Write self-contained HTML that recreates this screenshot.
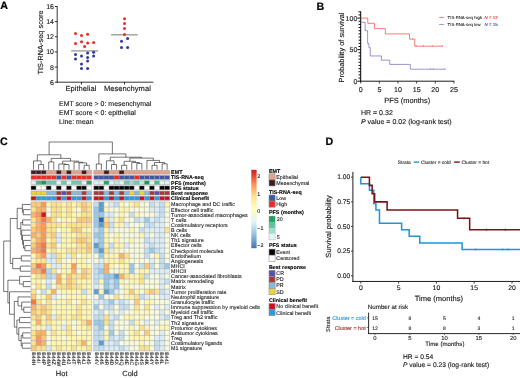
<!DOCTYPE html>
<html lang="en">
<head>
<meta charset="utf-8">
<title>Figure: TIS-RNA-seq score, EMT and survival</title>
<style>
html,body{margin:0;padding:0;background:#fff;}
body{width:520px;height:378px;overflow:hidden;}
svg{display:block;font-family:'Liberation Sans', sans-serif;}
svg text{font-family:"Liberation Sans",sans-serif;text-rendering:geometricPrecision;}
</style>
</head>
<body>
<svg width="520" height="378" viewBox="0 0 520 378">
<rect x="0" y="0" width="520" height="378" fill="#ffffff"/>
<g id="panelA">
<text font-size="107.0" font-weight="bold" transform="translate(0.20 9.00) scale(0.1)" fill="#000" stroke="#000" stroke-width="2.03">A</text>
<line x1="57.20" y1="6.20" x2="57.20" y2="82.55" stroke="#000" stroke-width="0.8"/>
<line x1="56.80" y1="82.20" x2="153.40" y2="82.20" stroke="#000" stroke-width="0.8"/>
<line x1="54.90" y1="82.20" x2="57.20" y2="82.20" stroke="#000" stroke-width="0.8"/>
<text font-size="70.0" text-anchor="end" transform="translate(54.00 84.70) scale(0.1)" fill="#1a1a1a" stroke="#1a1a1a" stroke-width="1.33">6</text>
<line x1="54.90" y1="67.06" x2="57.20" y2="67.06" stroke="#000" stroke-width="0.8"/>
<text font-size="70.0" text-anchor="end" transform="translate(54.00 69.56) scale(0.1)" fill="#1a1a1a" stroke="#1a1a1a" stroke-width="1.33">8</text>
<line x1="54.90" y1="51.92" x2="57.20" y2="51.92" stroke="#000" stroke-width="0.8"/>
<text font-size="70.0" text-anchor="end" transform="translate(54.00 54.42) scale(0.1)" fill="#1a1a1a" stroke="#1a1a1a" stroke-width="1.33">10</text>
<line x1="54.90" y1="36.78" x2="57.20" y2="36.78" stroke="#000" stroke-width="0.8"/>
<text font-size="70.0" text-anchor="end" transform="translate(54.00 39.28) scale(0.1)" fill="#1a1a1a" stroke="#1a1a1a" stroke-width="1.33">12</text>
<line x1="54.90" y1="21.64" x2="57.20" y2="21.64" stroke="#000" stroke-width="0.8"/>
<text font-size="70.0" text-anchor="end" transform="translate(54.00 24.14) scale(0.1)" fill="#1a1a1a" stroke="#1a1a1a" stroke-width="1.33">14</text>
<line x1="54.90" y1="6.50" x2="57.20" y2="6.50" stroke="#000" stroke-width="0.8"/>
<text font-size="70.0" text-anchor="end" transform="translate(54.00 9.00) scale(0.1)" fill="#1a1a1a" stroke="#1a1a1a" stroke-width="1.33">16</text>
<line x1="81.40" y1="82.20" x2="81.40" y2="84.50" stroke="#000" stroke-width="0.8"/>
<line x1="124.50" y1="82.20" x2="124.50" y2="84.50" stroke="#000" stroke-width="0.8"/>
<text font-size="76.0" text-anchor="middle" transform="translate(80.90 90.70) scale(0.1)" fill="#1a1a1a" stroke="#1a1a1a" stroke-width="1.44">Epithelial</text>
<text font-size="76.0" text-anchor="middle" transform="translate(127.40 90.70) scale(0.1)" fill="#1a1a1a" stroke="#1a1a1a" stroke-width="1.44">Mesenchymal</text>
<text font-size="74.0" text-anchor="middle" transform="translate(42.60 42.50) rotate(-90) scale(0.1)" fill="#1a1a1a" stroke="#1a1a1a" stroke-width="1.41">TIS-RNA-seq score</text>
<line x1="71.20" y1="50.90" x2="98.00" y2="50.90" stroke="#979797" stroke-width="1.3"/>
<line x1="111.00" y1="34.80" x2="137.80" y2="34.80" stroke="#979797" stroke-width="1.3"/>
<circle cx="75.5" cy="33.5" r="1.5" fill="#ee2a24"/>
<circle cx="81.5" cy="35.5" r="1.5" fill="#ee2a24"/>
<circle cx="87.6" cy="34.2" r="1.5" fill="#ee2a24"/>
<circle cx="75.5" cy="43.5" r="1.5" fill="#ee2a24"/>
<circle cx="81.5" cy="41.8" r="1.5" fill="#ee2a24"/>
<circle cx="87.6" cy="43.0" r="1.5" fill="#ee2a24"/>
<circle cx="93.6" cy="42.5" r="1.5" fill="#ee2a24"/>
<circle cx="84.6" cy="46.6" r="1.5" fill="#ee2a24"/>
<circle cx="124.5" cy="18.7" r="1.5" fill="#ee2a24"/>
<circle cx="124.5" cy="23.4" r="1.5" fill="#ee2a24"/>
<circle cx="124.5" cy="28.5" r="1.5" fill="#ee2a24"/>
<circle cx="124.5" cy="34.5" r="1.5" fill="#ee2a24"/>
<circle cx="75.5" cy="54.4" r="1.5" fill="#35379f"/>
<circle cx="81.5" cy="56.1" r="1.5" fill="#35379f"/>
<circle cx="87.6" cy="53.1" r="1.5" fill="#35379f"/>
<circle cx="93.6" cy="52.3" r="1.5" fill="#35379f"/>
<circle cx="75.5" cy="58.9" r="1.5" fill="#35379f"/>
<circle cx="87.6" cy="57.6" r="1.5" fill="#35379f"/>
<circle cx="93.6" cy="56.1" r="1.5" fill="#35379f"/>
<circle cx="81.5" cy="63.9" r="1.5" fill="#35379f"/>
<circle cx="87.6" cy="61.1" r="1.5" fill="#35379f"/>
<circle cx="81.5" cy="68.4" r="1.5" fill="#35379f"/>
<circle cx="87.6" cy="68.4" r="1.5" fill="#35379f"/>
<circle cx="127.6" cy="38.5" r="1.5" fill="#35379f"/>
<circle cx="121.5" cy="41.3" r="1.5" fill="#35379f"/>
<circle cx="121.5" cy="47.6" r="1.5" fill="#35379f"/>
<circle cx="127.6" cy="47.6" r="1.5" fill="#35379f"/>
<text font-size="69.8" transform="translate(59.00 106.40) scale(0.1)" fill="#1a1a1a" stroke="#1a1a1a" stroke-width="1.33">EMT score &gt; 0: mesenchymal</text>
<text font-size="69.8" transform="translate(59.00 115.20) scale(0.1)" fill="#1a1a1a" stroke="#1a1a1a" stroke-width="1.33">EMT score &lt; 0: epithelial</text>
<text font-size="69.8" transform="translate(59.00 124.00) scale(0.1)" fill="#1a1a1a" stroke="#1a1a1a" stroke-width="1.33">Line: mean</text>
</g>
<g id="panelB">
<text font-size="107.0" font-weight="bold" transform="translate(316.40 9.60) scale(0.1)" fill="#000" stroke="#000" stroke-width="2.03">B</text>
<line x1="360.70" y1="11.39" x2="360.70" y2="81.65" stroke="#000" stroke-width="1.0"/>
<line x1="360.20" y1="81.20" x2="454.35" y2="81.20" stroke="#000" stroke-width="0.9"/>
<line x1="357.40" y1="81.20" x2="360.70" y2="81.20" stroke="#000" stroke-width="0.95"/>
<line x1="358.50" y1="78.05" x2="360.70" y2="78.05" stroke="#000" stroke-width="0.95"/>
<line x1="358.50" y1="74.89" x2="360.70" y2="74.89" stroke="#000" stroke-width="0.95"/>
<line x1="358.50" y1="71.73" x2="360.70" y2="71.73" stroke="#000" stroke-width="0.95"/>
<line x1="358.50" y1="68.58" x2="360.70" y2="68.58" stroke="#000" stroke-width="0.95"/>
<line x1="358.50" y1="65.42" x2="360.70" y2="65.42" stroke="#000" stroke-width="0.95"/>
<line x1="358.50" y1="62.27" x2="360.70" y2="62.27" stroke="#000" stroke-width="0.95"/>
<line x1="358.50" y1="59.12" x2="360.70" y2="59.12" stroke="#000" stroke-width="0.95"/>
<line x1="358.50" y1="55.96" x2="360.70" y2="55.96" stroke="#000" stroke-width="0.95"/>
<line x1="358.50" y1="52.81" x2="360.70" y2="52.81" stroke="#000" stroke-width="0.95"/>
<line x1="357.40" y1="49.65" x2="360.70" y2="49.65" stroke="#000" stroke-width="0.95"/>
<line x1="358.50" y1="46.50" x2="360.70" y2="46.50" stroke="#000" stroke-width="0.95"/>
<line x1="358.50" y1="43.34" x2="360.70" y2="43.34" stroke="#000" stroke-width="0.95"/>
<line x1="358.50" y1="40.19" x2="360.70" y2="40.19" stroke="#000" stroke-width="0.95"/>
<line x1="358.50" y1="37.03" x2="360.70" y2="37.03" stroke="#000" stroke-width="0.95"/>
<line x1="358.50" y1="33.88" x2="360.70" y2="33.88" stroke="#000" stroke-width="0.95"/>
<line x1="358.50" y1="30.72" x2="360.70" y2="30.72" stroke="#000" stroke-width="0.95"/>
<line x1="358.50" y1="27.57" x2="360.70" y2="27.57" stroke="#000" stroke-width="0.95"/>
<line x1="358.50" y1="24.41" x2="360.70" y2="24.41" stroke="#000" stroke-width="0.95"/>
<line x1="358.50" y1="21.26" x2="360.70" y2="21.26" stroke="#000" stroke-width="0.95"/>
<line x1="357.40" y1="18.10" x2="360.70" y2="18.10" stroke="#000" stroke-width="0.95"/>
<line x1="358.50" y1="14.95" x2="360.70" y2="14.95" stroke="#000" stroke-width="0.95"/>
<line x1="358.50" y1="11.79" x2="360.70" y2="11.79" stroke="#000" stroke-width="0.95"/>
<text font-size="70.0" text-anchor="end" transform="translate(357.30 83.70) scale(0.1)" fill="#1a1a1a" stroke="#1a1a1a" stroke-width="1.33">0</text>
<text font-size="70.0" text-anchor="end" transform="translate(357.30 52.15) scale(0.1)" fill="#1a1a1a" stroke="#1a1a1a" stroke-width="1.33">50</text>
<text font-size="70.0" text-anchor="end" transform="translate(357.30 20.60) scale(0.1)" fill="#1a1a1a" stroke="#1a1a1a" stroke-width="1.33">100</text>
<line x1="360.70" y1="81.20" x2="360.70" y2="83.60" stroke="#000" stroke-width="0.7"/>
<text font-size="71.0" text-anchor="middle" transform="translate(360.70 91.90) scale(0.1)" fill="#1a1a1a" stroke="#1a1a1a" stroke-width="1.35">0</text>
<line x1="379.35" y1="81.20" x2="379.35" y2="83.60" stroke="#000" stroke-width="0.7"/>
<text font-size="71.0" text-anchor="middle" transform="translate(379.35 91.90) scale(0.1)" fill="#1a1a1a" stroke="#1a1a1a" stroke-width="1.35">5</text>
<line x1="398.00" y1="81.20" x2="398.00" y2="83.60" stroke="#000" stroke-width="0.7"/>
<text font-size="71.0" text-anchor="middle" transform="translate(398.00 91.90) scale(0.1)" fill="#1a1a1a" stroke="#1a1a1a" stroke-width="1.35">10</text>
<line x1="416.65" y1="81.20" x2="416.65" y2="83.60" stroke="#000" stroke-width="0.7"/>
<text font-size="71.0" text-anchor="middle" transform="translate(416.65 91.90) scale(0.1)" fill="#1a1a1a" stroke="#1a1a1a" stroke-width="1.35">15</text>
<line x1="435.30" y1="81.20" x2="435.30" y2="83.60" stroke="#000" stroke-width="0.7"/>
<text font-size="71.0" text-anchor="middle" transform="translate(435.30 91.90) scale(0.1)" fill="#1a1a1a" stroke="#1a1a1a" stroke-width="1.35">20</text>
<line x1="453.95" y1="81.20" x2="453.95" y2="83.60" stroke="#000" stroke-width="0.7"/>
<text font-size="71.0" text-anchor="middle" transform="translate(453.95 91.90) scale(0.1)" fill="#1a1a1a" stroke="#1a1a1a" stroke-width="1.35">25</text>
<text font-size="74.0" text-anchor="middle" transform="translate(343.60 47.50) rotate(-90) scale(0.1)" fill="#1a1a1a" stroke="#1a1a1a" stroke-width="1.41">Probability of survival</text>
<text font-size="74.5" text-anchor="middle" transform="translate(407.20 102.90) scale(0.1)" fill="#1a1a1a" stroke="#1a1a1a" stroke-width="1.42">PFS (months)</text>
<text font-size="70.5" transform="translate(360.90 115.40) scale(0.1)" fill="#1a1a1a" stroke="#1a1a1a" stroke-width="1.34">HR = 0.32</text>
<text font-size="70.5" transform="translate(360.90 123.60) scale(0.1)" fill="#1a1a1a" stroke="#1a1a1a" stroke-width="1.34"><tspan font-style="italic">P</tspan> value = 0.02 (log-rank test)</text>
<path d="M360.70 18.10 H367.79 V23.34 H374.50 V28.64 H385.32 V33.88 H409.56 V39.11 H414.78 V46.18 H442.76" stroke="#f04540" stroke-width="0.7" fill="none"/>
<path d="M360.70 22.33 H365.18 V30.72 H367.60 V43.34 H368.91 V47.57 H370.21 V55.96 H381.40 V60.19 H389.79 V64.42 H410.31 V69.21 H445.37" stroke="#6a68c0" stroke-width="0.7" fill="none"/>
<line x1="412.55" y1="38.11" x2="412.55" y2="39.41" stroke="#f04540" stroke-width="0.6"/>
<line x1="416.09" y1="45.18" x2="416.09" y2="46.48" stroke="#f04540" stroke-width="0.6"/>
<line x1="423.36" y1="45.18" x2="423.36" y2="46.48" stroke="#f04540" stroke-width="0.6"/>
<line x1="432.32" y1="45.18" x2="432.32" y2="46.48" stroke="#f04540" stroke-width="0.6"/>
<line x1="442.39" y1="45.18" x2="442.39" y2="46.48" stroke="#f04540" stroke-width="0.6"/>
<line x1="430.45" y1="68.21" x2="430.45" y2="69.51" stroke="#6a68c0" stroke-width="0.6"/>
<line x1="433.44" y1="68.21" x2="433.44" y2="69.51" stroke="#6a68c0" stroke-width="0.6"/>
<line x1="445.00" y1="68.21" x2="445.00" y2="69.51" stroke="#6a68c0" stroke-width="0.6"/>
<line x1="439.00" y1="17.50" x2="444.30" y2="17.50" stroke="#f04540" stroke-width="0.6"/>
<line x1="441.60" y1="16.60" x2="441.60" y2="17.80" stroke="#f04540" stroke-width="0.5"/>
<line x1="439.00" y1="24.50" x2="444.30" y2="24.50" stroke="#6a68c0" stroke-width="0.6"/>
<line x1="441.60" y1="23.60" x2="441.60" y2="24.80" stroke="#6a68c0" stroke-width="0.5"/>
<text font-size="42.7" transform="translate(447.60 19.00) scale(0.1)" fill="#1a1a1a" stroke="#1a1a1a" stroke-width="0.81">TIS-RNA-seq high</text>
<text font-size="42.7" transform="translate(447.60 26.00) scale(0.1)" fill="#1a1a1a" stroke="#1a1a1a" stroke-width="0.81">TIS-RNA-seq low</text>
<text font-size="44.0" transform="translate(484.50 19.00) scale(0.1)" fill="#e8201c" stroke="#e8201c" stroke-width="0.84"><tspan font-style="italic">N</tspan> = 12</text>
<text font-size="44.0" transform="translate(484.50 26.00) scale(0.1)" fill="#2a2ea0" stroke="#2a2ea0" stroke-width="0.84"><tspan font-style="italic">N</tspan> = 15</text>
</g>
<g id="panelC">
<text font-size="107.0" font-weight="bold" transform="translate(0.10 144.80) scale(0.1)" fill="#000" stroke="#000" stroke-width="2.03">C</text>
<rect x="31.00" y="201.90" width="5.06" height="5.136" fill="#fdca78"/>
<rect x="36.06" y="201.90" width="5.06" height="5.136" fill="#fdca78"/>
<rect x="41.12" y="201.90" width="5.06" height="5.136" fill="#fc9957"/>
<rect x="46.18" y="201.90" width="5.06" height="5.136" fill="#fff6b0"/>
<rect x="51.24" y="201.90" width="5.06" height="5.136" fill="#fee38f"/>
<rect x="56.30" y="201.90" width="5.06" height="5.136" fill="#fee38f"/>
<rect x="61.36" y="201.90" width="5.06" height="5.136" fill="#fff6b0"/>
<rect x="66.42" y="201.90" width="5.06" height="5.136" fill="#fee38f"/>
<rect x="71.48" y="201.90" width="5.06" height="5.136" fill="#fff6b0"/>
<rect x="76.54" y="201.90" width="5.06" height="5.136" fill="#fee38f"/>
<rect x="81.60" y="201.90" width="5.06" height="5.136" fill="#fdca78"/>
<rect x="86.66" y="201.90" width="5.06" height="5.136" fill="#fee38f"/>
<rect x="93.80" y="201.90" width="5.06" height="5.136" fill="#c3e0f3"/>
<rect x="98.86" y="201.90" width="5.06" height="5.136" fill="#5f9bd3"/>
<rect x="103.92" y="201.90" width="5.06" height="5.136" fill="#f7fadc"/>
<rect x="108.98" y="201.90" width="5.06" height="5.136" fill="#dcedf5"/>
<rect x="114.04" y="201.90" width="5.06" height="5.136" fill="#c3e0f3"/>
<rect x="119.10" y="201.90" width="5.06" height="5.136" fill="#fff6b0"/>
<rect x="124.16" y="201.90" width="5.06" height="5.136" fill="#f7fadc"/>
<rect x="129.22" y="201.90" width="5.06" height="5.136" fill="#fff6b0"/>
<rect x="134.28" y="201.90" width="5.06" height="5.136" fill="#fee38f"/>
<rect x="139.34" y="201.90" width="5.06" height="5.136" fill="#f7fadc"/>
<rect x="144.40" y="201.90" width="5.06" height="5.136" fill="#f7fadc"/>
<rect x="149.46" y="201.90" width="5.06" height="5.136" fill="#c3e0f3"/>
<rect x="154.52" y="201.90" width="5.06" height="5.136" fill="#dcedf5"/>
<rect x="159.58" y="201.90" width="5.06" height="5.136" fill="#c3e0f3"/>
<rect x="164.64" y="201.90" width="5.06" height="5.136" fill="#fff6b0"/>
<rect x="31.00" y="207.04" width="5.06" height="5.136" fill="#fee38f"/>
<rect x="36.06" y="207.04" width="5.06" height="5.136" fill="#fdb365"/>
<rect x="41.12" y="207.04" width="5.06" height="5.136" fill="#fdb365"/>
<rect x="46.18" y="207.04" width="5.06" height="5.136" fill="#f7fadc"/>
<rect x="51.24" y="207.04" width="5.06" height="5.136" fill="#fee38f"/>
<rect x="56.30" y="207.04" width="5.06" height="5.136" fill="#fee38f"/>
<rect x="61.36" y="207.04" width="5.06" height="5.136" fill="#fff6b0"/>
<rect x="66.42" y="207.04" width="5.06" height="5.136" fill="#fee38f"/>
<rect x="71.48" y="207.04" width="5.06" height="5.136" fill="#fff6b0"/>
<rect x="76.54" y="207.04" width="5.06" height="5.136" fill="#f7fadc"/>
<rect x="81.60" y="207.04" width="5.06" height="5.136" fill="#fdca78"/>
<rect x="86.66" y="207.04" width="5.06" height="5.136" fill="#fee38f"/>
<rect x="93.80" y="207.04" width="5.06" height="5.136" fill="#9acaea"/>
<rect x="98.86" y="207.04" width="5.06" height="5.136" fill="#5f9bd3"/>
<rect x="103.92" y="207.04" width="5.06" height="5.136" fill="#fff6b0"/>
<rect x="108.98" y="207.04" width="5.06" height="5.136" fill="#f7fadc"/>
<rect x="114.04" y="207.04" width="5.06" height="5.136" fill="#f7fadc"/>
<rect x="119.10" y="207.04" width="5.06" height="5.136" fill="#fff6b0"/>
<rect x="124.16" y="207.04" width="5.06" height="5.136" fill="#fff6b0"/>
<rect x="129.22" y="207.04" width="5.06" height="5.136" fill="#f7fadc"/>
<rect x="134.28" y="207.04" width="5.06" height="5.136" fill="#f7fadc"/>
<rect x="139.34" y="207.04" width="5.06" height="5.136" fill="#f7fadc"/>
<rect x="144.40" y="207.04" width="5.06" height="5.136" fill="#f7fadc"/>
<rect x="149.46" y="207.04" width="5.06" height="5.136" fill="#dcedf5"/>
<rect x="154.52" y="207.04" width="5.06" height="5.136" fill="#dcedf5"/>
<rect x="159.58" y="207.04" width="5.06" height="5.136" fill="#c3e0f3"/>
<rect x="164.64" y="207.04" width="5.06" height="5.136" fill="#f7fadc"/>
<rect x="31.00" y="212.17" width="5.06" height="5.136" fill="#fdb365"/>
<rect x="36.06" y="212.17" width="5.06" height="5.136" fill="#fc9957"/>
<rect x="41.12" y="212.17" width="5.06" height="5.136" fill="#d8141c"/>
<rect x="46.18" y="212.17" width="5.06" height="5.136" fill="#f7fadc"/>
<rect x="51.24" y="212.17" width="5.06" height="5.136" fill="#fee38f"/>
<rect x="56.30" y="212.17" width="5.06" height="5.136" fill="#fee38f"/>
<rect x="61.36" y="212.17" width="5.06" height="5.136" fill="#fff6b0"/>
<rect x="66.42" y="212.17" width="5.06" height="5.136" fill="#fee38f"/>
<rect x="71.48" y="212.17" width="5.06" height="5.136" fill="#fff6b0"/>
<rect x="76.54" y="212.17" width="5.06" height="5.136" fill="#fff6b0"/>
<rect x="81.60" y="212.17" width="5.06" height="5.136" fill="#fee38f"/>
<rect x="86.66" y="212.17" width="5.06" height="5.136" fill="#fee38f"/>
<rect x="93.80" y="212.17" width="5.06" height="5.136" fill="#9acaea"/>
<rect x="98.86" y="212.17" width="5.06" height="5.136" fill="#9acaea"/>
<rect x="103.92" y="212.17" width="5.06" height="5.136" fill="#dcedf5"/>
<rect x="108.98" y="212.17" width="5.06" height="5.136" fill="#dcedf5"/>
<rect x="114.04" y="212.17" width="5.06" height="5.136" fill="#f7fadc"/>
<rect x="119.10" y="212.17" width="5.06" height="5.136" fill="#fff6b0"/>
<rect x="124.16" y="212.17" width="5.06" height="5.136" fill="#f7fadc"/>
<rect x="129.22" y="212.17" width="5.06" height="5.136" fill="#c3e0f3"/>
<rect x="134.28" y="212.17" width="5.06" height="5.136" fill="#fff6b0"/>
<rect x="139.34" y="212.17" width="5.06" height="5.136" fill="#f7fadc"/>
<rect x="144.40" y="212.17" width="5.06" height="5.136" fill="#f7fadc"/>
<rect x="149.46" y="212.17" width="5.06" height="5.136" fill="#f7fadc"/>
<rect x="154.52" y="212.17" width="5.06" height="5.136" fill="#dcedf5"/>
<rect x="159.58" y="212.17" width="5.06" height="5.136" fill="#c3e0f3"/>
<rect x="164.64" y="212.17" width="5.06" height="5.136" fill="#f7fadc"/>
<rect x="31.00" y="217.31" width="5.06" height="5.136" fill="#fee38f"/>
<rect x="36.06" y="217.31" width="5.06" height="5.136" fill="#fdb365"/>
<rect x="41.12" y="217.31" width="5.06" height="5.136" fill="#f67745"/>
<rect x="46.18" y="217.31" width="5.06" height="5.136" fill="#fdb365"/>
<rect x="51.24" y="217.31" width="5.06" height="5.136" fill="#fee38f"/>
<rect x="56.30" y="217.31" width="5.06" height="5.136" fill="#f7fadc"/>
<rect x="61.36" y="217.31" width="5.06" height="5.136" fill="#fff6b0"/>
<rect x="66.42" y="217.31" width="5.06" height="5.136" fill="#fff6b0"/>
<rect x="71.48" y="217.31" width="5.06" height="5.136" fill="#fff6b0"/>
<rect x="76.54" y="217.31" width="5.06" height="5.136" fill="#fdca78"/>
<rect x="81.60" y="217.31" width="5.06" height="5.136" fill="#fdca78"/>
<rect x="86.66" y="217.31" width="5.06" height="5.136" fill="#fdca78"/>
<rect x="93.80" y="217.31" width="5.06" height="5.136" fill="#9acaea"/>
<rect x="98.86" y="217.31" width="5.06" height="5.136" fill="#2a62b5"/>
<rect x="103.92" y="217.31" width="5.06" height="5.136" fill="#fee38f"/>
<rect x="108.98" y="217.31" width="5.06" height="5.136" fill="#dcedf5"/>
<rect x="114.04" y="217.31" width="5.06" height="5.136" fill="#fff6b0"/>
<rect x="119.10" y="217.31" width="5.06" height="5.136" fill="#fee38f"/>
<rect x="124.16" y="217.31" width="5.06" height="5.136" fill="#f7fadc"/>
<rect x="129.22" y="217.31" width="5.06" height="5.136" fill="#f7fadc"/>
<rect x="134.28" y="217.31" width="5.06" height="5.136" fill="#c3e0f3"/>
<rect x="139.34" y="217.31" width="5.06" height="5.136" fill="#dcedf5"/>
<rect x="144.40" y="217.31" width="5.06" height="5.136" fill="#9acaea"/>
<rect x="149.46" y="217.31" width="5.06" height="5.136" fill="#dcedf5"/>
<rect x="154.52" y="217.31" width="5.06" height="5.136" fill="#c3e0f3"/>
<rect x="159.58" y="217.31" width="5.06" height="5.136" fill="#dcedf5"/>
<rect x="164.64" y="217.31" width="5.06" height="5.136" fill="#f7fadc"/>
<rect x="31.00" y="222.44" width="5.06" height="5.136" fill="#fee38f"/>
<rect x="36.06" y="222.44" width="5.06" height="5.136" fill="#fdb365"/>
<rect x="41.12" y="222.44" width="5.06" height="5.136" fill="#fc9957"/>
<rect x="46.18" y="222.44" width="5.06" height="5.136" fill="#fee38f"/>
<rect x="51.24" y="222.44" width="5.06" height="5.136" fill="#fee38f"/>
<rect x="56.30" y="222.44" width="5.06" height="5.136" fill="#fee38f"/>
<rect x="61.36" y="222.44" width="5.06" height="5.136" fill="#fff6b0"/>
<rect x="66.42" y="222.44" width="5.06" height="5.136" fill="#fee38f"/>
<rect x="71.48" y="222.44" width="5.06" height="5.136" fill="#fee38f"/>
<rect x="76.54" y="222.44" width="5.06" height="5.136" fill="#fee38f"/>
<rect x="81.60" y="222.44" width="5.06" height="5.136" fill="#fee38f"/>
<rect x="86.66" y="222.44" width="5.06" height="5.136" fill="#fee38f"/>
<rect x="93.80" y="222.44" width="5.06" height="5.136" fill="#9acaea"/>
<rect x="98.86" y="222.44" width="5.06" height="5.136" fill="#5f9bd3"/>
<rect x="103.92" y="222.44" width="5.06" height="5.136" fill="#fdca78"/>
<rect x="108.98" y="222.44" width="5.06" height="5.136" fill="#c3e0f3"/>
<rect x="114.04" y="222.44" width="5.06" height="5.136" fill="#fff6b0"/>
<rect x="119.10" y="222.44" width="5.06" height="5.136" fill="#fff6b0"/>
<rect x="124.16" y="222.44" width="5.06" height="5.136" fill="#dcedf5"/>
<rect x="129.22" y="222.44" width="5.06" height="5.136" fill="#f7fadc"/>
<rect x="134.28" y="222.44" width="5.06" height="5.136" fill="#f7fadc"/>
<rect x="139.34" y="222.44" width="5.06" height="5.136" fill="#f7fadc"/>
<rect x="144.40" y="222.44" width="5.06" height="5.136" fill="#c3e0f3"/>
<rect x="149.46" y="222.44" width="5.06" height="5.136" fill="#c3e0f3"/>
<rect x="154.52" y="222.44" width="5.06" height="5.136" fill="#dcedf5"/>
<rect x="159.58" y="222.44" width="5.06" height="5.136" fill="#dcedf5"/>
<rect x="164.64" y="222.44" width="5.06" height="5.136" fill="#f7fadc"/>
<rect x="31.00" y="227.58" width="5.06" height="5.136" fill="#fdca78"/>
<rect x="36.06" y="227.58" width="5.06" height="5.136" fill="#fdb365"/>
<rect x="41.12" y="227.58" width="5.06" height="5.136" fill="#fc9957"/>
<rect x="46.18" y="227.58" width="5.06" height="5.136" fill="#fee38f"/>
<rect x="51.24" y="227.58" width="5.06" height="5.136" fill="#fee38f"/>
<rect x="56.30" y="227.58" width="5.06" height="5.136" fill="#f7fadc"/>
<rect x="61.36" y="227.58" width="5.06" height="5.136" fill="#fff6b0"/>
<rect x="66.42" y="227.58" width="5.06" height="5.136" fill="#fff6b0"/>
<rect x="71.48" y="227.58" width="5.06" height="5.136" fill="#fdca78"/>
<rect x="76.54" y="227.58" width="5.06" height="5.136" fill="#fdca78"/>
<rect x="81.60" y="227.58" width="5.06" height="5.136" fill="#fff6b0"/>
<rect x="86.66" y="227.58" width="5.06" height="5.136" fill="#fff6b0"/>
<rect x="93.80" y="227.58" width="5.06" height="5.136" fill="#c3e0f3"/>
<rect x="98.86" y="227.58" width="5.06" height="5.136" fill="#9acaea"/>
<rect x="103.92" y="227.58" width="5.06" height="5.136" fill="#fff6b0"/>
<rect x="108.98" y="227.58" width="5.06" height="5.136" fill="#dcedf5"/>
<rect x="114.04" y="227.58" width="5.06" height="5.136" fill="#f7fadc"/>
<rect x="119.10" y="227.58" width="5.06" height="5.136" fill="#f7fadc"/>
<rect x="124.16" y="227.58" width="5.06" height="5.136" fill="#f7fadc"/>
<rect x="129.22" y="227.58" width="5.06" height="5.136" fill="#fff6b0"/>
<rect x="134.28" y="227.58" width="5.06" height="5.136" fill="#f7fadc"/>
<rect x="139.34" y="227.58" width="5.06" height="5.136" fill="#c3e0f3"/>
<rect x="144.40" y="227.58" width="5.06" height="5.136" fill="#dcedf5"/>
<rect x="149.46" y="227.58" width="5.06" height="5.136" fill="#dcedf5"/>
<rect x="154.52" y="227.58" width="5.06" height="5.136" fill="#dcedf5"/>
<rect x="159.58" y="227.58" width="5.06" height="5.136" fill="#dcedf5"/>
<rect x="164.64" y="227.58" width="5.06" height="5.136" fill="#fee38f"/>
<rect x="31.00" y="232.72" width="5.06" height="5.136" fill="#fdb365"/>
<rect x="36.06" y="232.72" width="5.06" height="5.136" fill="#fdca78"/>
<rect x="41.12" y="232.72" width="5.06" height="5.136" fill="#fc9957"/>
<rect x="46.18" y="232.72" width="5.06" height="5.136" fill="#fee38f"/>
<rect x="51.24" y="232.72" width="5.06" height="5.136" fill="#fdca78"/>
<rect x="56.30" y="232.72" width="5.06" height="5.136" fill="#dcedf5"/>
<rect x="61.36" y="232.72" width="5.06" height="5.136" fill="#fff6b0"/>
<rect x="66.42" y="232.72" width="5.06" height="5.136" fill="#fff6b0"/>
<rect x="71.48" y="232.72" width="5.06" height="5.136" fill="#fff6b0"/>
<rect x="76.54" y="232.72" width="5.06" height="5.136" fill="#fee38f"/>
<rect x="81.60" y="232.72" width="5.06" height="5.136" fill="#fee38f"/>
<rect x="86.66" y="232.72" width="5.06" height="5.136" fill="#fee38f"/>
<rect x="93.80" y="232.72" width="5.06" height="5.136" fill="#9acaea"/>
<rect x="98.86" y="232.72" width="5.06" height="5.136" fill="#9acaea"/>
<rect x="103.92" y="232.72" width="5.06" height="5.136" fill="#fff6b0"/>
<rect x="108.98" y="232.72" width="5.06" height="5.136" fill="#f7fadc"/>
<rect x="114.04" y="232.72" width="5.06" height="5.136" fill="#fff6b0"/>
<rect x="119.10" y="232.72" width="5.06" height="5.136" fill="#f7fadc"/>
<rect x="124.16" y="232.72" width="5.06" height="5.136" fill="#f7fadc"/>
<rect x="129.22" y="232.72" width="5.06" height="5.136" fill="#f7fadc"/>
<rect x="134.28" y="232.72" width="5.06" height="5.136" fill="#f7fadc"/>
<rect x="139.34" y="232.72" width="5.06" height="5.136" fill="#fff6b0"/>
<rect x="144.40" y="232.72" width="5.06" height="5.136" fill="#dcedf5"/>
<rect x="149.46" y="232.72" width="5.06" height="5.136" fill="#f7fadc"/>
<rect x="154.52" y="232.72" width="5.06" height="5.136" fill="#dcedf5"/>
<rect x="159.58" y="232.72" width="5.06" height="5.136" fill="#dcedf5"/>
<rect x="164.64" y="232.72" width="5.06" height="5.136" fill="#f7fadc"/>
<rect x="31.00" y="237.85" width="5.06" height="5.136" fill="#fee38f"/>
<rect x="36.06" y="237.85" width="5.06" height="5.136" fill="#fdb365"/>
<rect x="41.12" y="237.85" width="5.06" height="5.136" fill="#fc9957"/>
<rect x="46.18" y="237.85" width="5.06" height="5.136" fill="#fff6b0"/>
<rect x="51.24" y="237.85" width="5.06" height="5.136" fill="#fee38f"/>
<rect x="56.30" y="237.85" width="5.06" height="5.136" fill="#dcedf5"/>
<rect x="61.36" y="237.85" width="5.06" height="5.136" fill="#fff6b0"/>
<rect x="66.42" y="237.85" width="5.06" height="5.136" fill="#fff6b0"/>
<rect x="71.48" y="237.85" width="5.06" height="5.136" fill="#fee38f"/>
<rect x="76.54" y="237.85" width="5.06" height="5.136" fill="#fdca78"/>
<rect x="81.60" y="237.85" width="5.06" height="5.136" fill="#fdca78"/>
<rect x="86.66" y="237.85" width="5.06" height="5.136" fill="#fee38f"/>
<rect x="93.80" y="237.85" width="5.06" height="5.136" fill="#c3e0f3"/>
<rect x="98.86" y="237.85" width="5.06" height="5.136" fill="#9acaea"/>
<rect x="103.92" y="237.85" width="5.06" height="5.136" fill="#fff6b0"/>
<rect x="108.98" y="237.85" width="5.06" height="5.136" fill="#f7fadc"/>
<rect x="114.04" y="237.85" width="5.06" height="5.136" fill="#fff6b0"/>
<rect x="119.10" y="237.85" width="5.06" height="5.136" fill="#f7fadc"/>
<rect x="124.16" y="237.85" width="5.06" height="5.136" fill="#f7fadc"/>
<rect x="129.22" y="237.85" width="5.06" height="5.136" fill="#fff6b0"/>
<rect x="134.28" y="237.85" width="5.06" height="5.136" fill="#f7fadc"/>
<rect x="139.34" y="237.85" width="5.06" height="5.136" fill="#f7fadc"/>
<rect x="144.40" y="237.85" width="5.06" height="5.136" fill="#c3e0f3"/>
<rect x="149.46" y="237.85" width="5.06" height="5.136" fill="#dcedf5"/>
<rect x="154.52" y="237.85" width="5.06" height="5.136" fill="#dcedf5"/>
<rect x="159.58" y="237.85" width="5.06" height="5.136" fill="#dcedf5"/>
<rect x="164.64" y="237.85" width="5.06" height="5.136" fill="#f7fadc"/>
<rect x="31.00" y="242.99" width="5.06" height="5.136" fill="#fdca78"/>
<rect x="36.06" y="242.99" width="5.06" height="5.136" fill="#fc9957"/>
<rect x="41.12" y="242.99" width="5.06" height="5.136" fill="#f67745"/>
<rect x="46.18" y="242.99" width="5.06" height="5.136" fill="#fee38f"/>
<rect x="51.24" y="242.99" width="5.06" height="5.136" fill="#fdca78"/>
<rect x="56.30" y="242.99" width="5.06" height="5.136" fill="#f7fadc"/>
<rect x="61.36" y="242.99" width="5.06" height="5.136" fill="#fff6b0"/>
<rect x="66.42" y="242.99" width="5.06" height="5.136" fill="#fff6b0"/>
<rect x="71.48" y="242.99" width="5.06" height="5.136" fill="#fff6b0"/>
<rect x="76.54" y="242.99" width="5.06" height="5.136" fill="#fee38f"/>
<rect x="81.60" y="242.99" width="5.06" height="5.136" fill="#fee38f"/>
<rect x="86.66" y="242.99" width="5.06" height="5.136" fill="#fdca78"/>
<rect x="93.80" y="242.99" width="5.06" height="5.136" fill="#5f9bd3"/>
<rect x="98.86" y="242.99" width="5.06" height="5.136" fill="#9acaea"/>
<rect x="103.92" y="242.99" width="5.06" height="5.136" fill="#fff6b0"/>
<rect x="108.98" y="242.99" width="5.06" height="5.136" fill="#c3e0f3"/>
<rect x="114.04" y="242.99" width="5.06" height="5.136" fill="#fff6b0"/>
<rect x="119.10" y="242.99" width="5.06" height="5.136" fill="#fff6b0"/>
<rect x="124.16" y="242.99" width="5.06" height="5.136" fill="#dcedf5"/>
<rect x="129.22" y="242.99" width="5.06" height="5.136" fill="#f7fadc"/>
<rect x="134.28" y="242.99" width="5.06" height="5.136" fill="#f7fadc"/>
<rect x="139.34" y="242.99" width="5.06" height="5.136" fill="#f7fadc"/>
<rect x="144.40" y="242.99" width="5.06" height="5.136" fill="#dcedf5"/>
<rect x="149.46" y="242.99" width="5.06" height="5.136" fill="#c3e0f3"/>
<rect x="154.52" y="242.99" width="5.06" height="5.136" fill="#dcedf5"/>
<rect x="159.58" y="242.99" width="5.06" height="5.136" fill="#dcedf5"/>
<rect x="164.64" y="242.99" width="5.06" height="5.136" fill="#f7fadc"/>
<rect x="31.00" y="248.12" width="5.06" height="5.136" fill="#fdb365"/>
<rect x="36.06" y="248.12" width="5.06" height="5.136" fill="#fc9957"/>
<rect x="41.12" y="248.12" width="5.06" height="5.136" fill="#f67745"/>
<rect x="46.18" y="248.12" width="5.06" height="5.136" fill="#fff6b0"/>
<rect x="51.24" y="248.12" width="5.06" height="5.136" fill="#fee38f"/>
<rect x="56.30" y="248.12" width="5.06" height="5.136" fill="#fff6b0"/>
<rect x="61.36" y="248.12" width="5.06" height="5.136" fill="#fff6b0"/>
<rect x="66.42" y="248.12" width="5.06" height="5.136" fill="#fee38f"/>
<rect x="71.48" y="248.12" width="5.06" height="5.136" fill="#fee38f"/>
<rect x="76.54" y="248.12" width="5.06" height="5.136" fill="#fee38f"/>
<rect x="81.60" y="248.12" width="5.06" height="5.136" fill="#fee38f"/>
<rect x="86.66" y="248.12" width="5.06" height="5.136" fill="#fdca78"/>
<rect x="93.80" y="248.12" width="5.06" height="5.136" fill="#9acaea"/>
<rect x="98.86" y="248.12" width="5.06" height="5.136" fill="#5f9bd3"/>
<rect x="103.92" y="248.12" width="5.06" height="5.136" fill="#fee38f"/>
<rect x="108.98" y="248.12" width="5.06" height="5.136" fill="#dcedf5"/>
<rect x="114.04" y="248.12" width="5.06" height="5.136" fill="#fff6b0"/>
<rect x="119.10" y="248.12" width="5.06" height="5.136" fill="#f7fadc"/>
<rect x="124.16" y="248.12" width="5.06" height="5.136" fill="#f7fadc"/>
<rect x="129.22" y="248.12" width="5.06" height="5.136" fill="#f7fadc"/>
<rect x="134.28" y="248.12" width="5.06" height="5.136" fill="#f7fadc"/>
<rect x="139.34" y="248.12" width="5.06" height="5.136" fill="#f7fadc"/>
<rect x="144.40" y="248.12" width="5.06" height="5.136" fill="#c3e0f3"/>
<rect x="149.46" y="248.12" width="5.06" height="5.136" fill="#9acaea"/>
<rect x="154.52" y="248.12" width="5.06" height="5.136" fill="#c3e0f3"/>
<rect x="159.58" y="248.12" width="5.06" height="5.136" fill="#dcedf5"/>
<rect x="164.64" y="248.12" width="5.06" height="5.136" fill="#f7fadc"/>
<rect x="31.00" y="253.26" width="5.06" height="5.136" fill="#fff6b0"/>
<rect x="36.06" y="253.26" width="5.06" height="5.136" fill="#fdca78"/>
<rect x="41.12" y="253.26" width="5.06" height="5.136" fill="#fc9957"/>
<rect x="46.18" y="253.26" width="5.06" height="5.136" fill="#dcedf5"/>
<rect x="51.24" y="253.26" width="5.06" height="5.136" fill="#c3e0f3"/>
<rect x="56.30" y="253.26" width="5.06" height="5.136" fill="#fee38f"/>
<rect x="61.36" y="253.26" width="5.06" height="5.136" fill="#fff6b0"/>
<rect x="66.42" y="253.26" width="5.06" height="5.136" fill="#dcedf5"/>
<rect x="71.48" y="253.26" width="5.06" height="5.136" fill="#fee38f"/>
<rect x="76.54" y="253.26" width="5.06" height="5.136" fill="#f7fadc"/>
<rect x="81.60" y="253.26" width="5.06" height="5.136" fill="#fff6b0"/>
<rect x="86.66" y="253.26" width="5.06" height="5.136" fill="#fff6b0"/>
<rect x="93.80" y="253.26" width="5.06" height="5.136" fill="#f7fadc"/>
<rect x="98.86" y="253.26" width="5.06" height="5.136" fill="#9acaea"/>
<rect x="103.92" y="253.26" width="5.06" height="5.136" fill="#fff6b0"/>
<rect x="108.98" y="253.26" width="5.06" height="5.136" fill="#fff6b0"/>
<rect x="114.04" y="253.26" width="5.06" height="5.136" fill="#fff6b0"/>
<rect x="119.10" y="253.26" width="5.06" height="5.136" fill="#fdb365"/>
<rect x="124.16" y="253.26" width="5.06" height="5.136" fill="#fee38f"/>
<rect x="129.22" y="253.26" width="5.06" height="5.136" fill="#f7fadc"/>
<rect x="134.28" y="253.26" width="5.06" height="5.136" fill="#f7fadc"/>
<rect x="139.34" y="253.26" width="5.06" height="5.136" fill="#f7fadc"/>
<rect x="144.40" y="253.26" width="5.06" height="5.136" fill="#c3e0f3"/>
<rect x="149.46" y="253.26" width="5.06" height="5.136" fill="#f7fadc"/>
<rect x="154.52" y="253.26" width="5.06" height="5.136" fill="#fff6b0"/>
<rect x="159.58" y="253.26" width="5.06" height="5.136" fill="#c3e0f3"/>
<rect x="164.64" y="253.26" width="5.06" height="5.136" fill="#f7fadc"/>
<rect x="31.00" y="258.40" width="5.06" height="5.136" fill="#fff6b0"/>
<rect x="36.06" y="258.40" width="5.06" height="5.136" fill="#fee38f"/>
<rect x="41.12" y="258.40" width="5.06" height="5.136" fill="#fee38f"/>
<rect x="46.18" y="258.40" width="5.06" height="5.136" fill="#dcedf5"/>
<rect x="51.24" y="258.40" width="5.06" height="5.136" fill="#dcedf5"/>
<rect x="56.30" y="258.40" width="5.06" height="5.136" fill="#fee38f"/>
<rect x="61.36" y="258.40" width="5.06" height="5.136" fill="#f7fadc"/>
<rect x="66.42" y="258.40" width="5.06" height="5.136" fill="#f7fadc"/>
<rect x="71.48" y="258.40" width="5.06" height="5.136" fill="#fff6b0"/>
<rect x="76.54" y="258.40" width="5.06" height="5.136" fill="#fff6b0"/>
<rect x="81.60" y="258.40" width="5.06" height="5.136" fill="#fff6b0"/>
<rect x="86.66" y="258.40" width="5.06" height="5.136" fill="#f7fadc"/>
<rect x="93.80" y="258.40" width="5.06" height="5.136" fill="#f7fadc"/>
<rect x="98.86" y="258.40" width="5.06" height="5.136" fill="#dcedf5"/>
<rect x="103.92" y="258.40" width="5.06" height="5.136" fill="#fff6b0"/>
<rect x="108.98" y="258.40" width="5.06" height="5.136" fill="#fff6b0"/>
<rect x="114.04" y="258.40" width="5.06" height="5.136" fill="#fff6b0"/>
<rect x="119.10" y="258.40" width="5.06" height="5.136" fill="#fee38f"/>
<rect x="124.16" y="258.40" width="5.06" height="5.136" fill="#fff6b0"/>
<rect x="129.22" y="258.40" width="5.06" height="5.136" fill="#f7fadc"/>
<rect x="134.28" y="258.40" width="5.06" height="5.136" fill="#f7fadc"/>
<rect x="139.34" y="258.40" width="5.06" height="5.136" fill="#f7fadc"/>
<rect x="144.40" y="258.40" width="5.06" height="5.136" fill="#f7fadc"/>
<rect x="149.46" y="258.40" width="5.06" height="5.136" fill="#dcedf5"/>
<rect x="154.52" y="258.40" width="5.06" height="5.136" fill="#f7fadc"/>
<rect x="159.58" y="258.40" width="5.06" height="5.136" fill="#c3e0f3"/>
<rect x="164.64" y="258.40" width="5.06" height="5.136" fill="#f7fadc"/>
<rect x="31.00" y="263.53" width="5.06" height="5.136" fill="#fdca78"/>
<rect x="36.06" y="263.53" width="5.06" height="5.136" fill="#f67745"/>
<rect x="41.12" y="263.53" width="5.06" height="5.136" fill="#fc9957"/>
<rect x="46.18" y="263.53" width="5.06" height="5.136" fill="#fff6b0"/>
<rect x="51.24" y="263.53" width="5.06" height="5.136" fill="#dcedf5"/>
<rect x="56.30" y="263.53" width="5.06" height="5.136" fill="#dcedf5"/>
<rect x="61.36" y="263.53" width="5.06" height="5.136" fill="#fff6b0"/>
<rect x="66.42" y="263.53" width="5.06" height="5.136" fill="#fff6b0"/>
<rect x="71.48" y="263.53" width="5.06" height="5.136" fill="#fc9957"/>
<rect x="76.54" y="263.53" width="5.06" height="5.136" fill="#fff6b0"/>
<rect x="81.60" y="263.53" width="5.06" height="5.136" fill="#fff6b0"/>
<rect x="86.66" y="263.53" width="5.06" height="5.136" fill="#fff6b0"/>
<rect x="93.80" y="263.53" width="5.06" height="5.136" fill="#c3e0f3"/>
<rect x="98.86" y="263.53" width="5.06" height="5.136" fill="#c3e0f3"/>
<rect x="103.92" y="263.53" width="5.06" height="5.136" fill="#fdb365"/>
<rect x="108.98" y="263.53" width="5.06" height="5.136" fill="#fff6b0"/>
<rect x="114.04" y="263.53" width="5.06" height="5.136" fill="#f7fadc"/>
<rect x="119.10" y="263.53" width="5.06" height="5.136" fill="#fff6b0"/>
<rect x="124.16" y="263.53" width="5.06" height="5.136" fill="#fff6b0"/>
<rect x="129.22" y="263.53" width="5.06" height="5.136" fill="#9acaea"/>
<rect x="134.28" y="263.53" width="5.06" height="5.136" fill="#f7fadc"/>
<rect x="139.34" y="263.53" width="5.06" height="5.136" fill="#c3e0f3"/>
<rect x="144.40" y="263.53" width="5.06" height="5.136" fill="#fdca78"/>
<rect x="149.46" y="263.53" width="5.06" height="5.136" fill="#c3e0f3"/>
<rect x="154.52" y="263.53" width="5.06" height="5.136" fill="#f7fadc"/>
<rect x="159.58" y="263.53" width="5.06" height="5.136" fill="#c3e0f3"/>
<rect x="164.64" y="263.53" width="5.06" height="5.136" fill="#9acaea"/>
<rect x="31.00" y="268.67" width="5.06" height="5.136" fill="#fdb365"/>
<rect x="36.06" y="268.67" width="5.06" height="5.136" fill="#fdb365"/>
<rect x="41.12" y="268.67" width="5.06" height="5.136" fill="#f67745"/>
<rect x="46.18" y="268.67" width="5.06" height="5.136" fill="#b2d7ee"/>
<rect x="51.24" y="268.67" width="5.06" height="5.136" fill="#fee38f"/>
<rect x="56.30" y="268.67" width="5.06" height="5.136" fill="#f7fadc"/>
<rect x="61.36" y="268.67" width="5.06" height="5.136" fill="#fff6b0"/>
<rect x="66.42" y="268.67" width="5.06" height="5.136" fill="#fff6b0"/>
<rect x="71.48" y="268.67" width="5.06" height="5.136" fill="#fdb365"/>
<rect x="76.54" y="268.67" width="5.06" height="5.136" fill="#f7fadc"/>
<rect x="81.60" y="268.67" width="5.06" height="5.136" fill="#fdca78"/>
<rect x="86.66" y="268.67" width="5.06" height="5.136" fill="#fee38f"/>
<rect x="93.80" y="268.67" width="5.06" height="5.136" fill="#c3e0f3"/>
<rect x="98.86" y="268.67" width="5.06" height="5.136" fill="#9acaea"/>
<rect x="103.92" y="268.67" width="5.06" height="5.136" fill="#fdb365"/>
<rect x="108.98" y="268.67" width="5.06" height="5.136" fill="#f7fadc"/>
<rect x="114.04" y="268.67" width="5.06" height="5.136" fill="#f7fadc"/>
<rect x="119.10" y="268.67" width="5.06" height="5.136" fill="#fff6b0"/>
<rect x="124.16" y="268.67" width="5.06" height="5.136" fill="#fff6b0"/>
<rect x="129.22" y="268.67" width="5.06" height="5.136" fill="#9acaea"/>
<rect x="134.28" y="268.67" width="5.06" height="5.136" fill="#f7fadc"/>
<rect x="139.34" y="268.67" width="5.06" height="5.136" fill="#fff6b0"/>
<rect x="144.40" y="268.67" width="5.06" height="5.136" fill="#fff6b0"/>
<rect x="149.46" y="268.67" width="5.06" height="5.136" fill="#dcedf5"/>
<rect x="154.52" y="268.67" width="5.06" height="5.136" fill="#dcedf5"/>
<rect x="159.58" y="268.67" width="5.06" height="5.136" fill="#dcedf5"/>
<rect x="164.64" y="268.67" width="5.06" height="5.136" fill="#dcedf5"/>
<rect x="31.00" y="273.80" width="5.06" height="5.136" fill="#fff6b0"/>
<rect x="36.06" y="273.80" width="5.06" height="5.136" fill="#fee38f"/>
<rect x="41.12" y="273.80" width="5.06" height="5.136" fill="#fdca78"/>
<rect x="46.18" y="273.80" width="5.06" height="5.136" fill="#b2d7ee"/>
<rect x="51.24" y="273.80" width="5.06" height="5.136" fill="#c3e0f3"/>
<rect x="56.30" y="273.80" width="5.06" height="5.136" fill="#fdb365"/>
<rect x="61.36" y="273.80" width="5.06" height="5.136" fill="#fff6b0"/>
<rect x="66.42" y="273.80" width="5.06" height="5.136" fill="#fdca78"/>
<rect x="71.48" y="273.80" width="5.06" height="5.136" fill="#fee38f"/>
<rect x="76.54" y="273.80" width="5.06" height="5.136" fill="#fee38f"/>
<rect x="81.60" y="273.80" width="5.06" height="5.136" fill="#fdca78"/>
<rect x="86.66" y="273.80" width="5.06" height="5.136" fill="#fee38f"/>
<rect x="93.80" y="273.80" width="5.06" height="5.136" fill="#c3e0f3"/>
<rect x="98.86" y="273.80" width="5.06" height="5.136" fill="#c3e0f3"/>
<rect x="103.92" y="273.80" width="5.06" height="5.136" fill="#9acaea"/>
<rect x="108.98" y="273.80" width="5.06" height="5.136" fill="#9acaea"/>
<rect x="114.04" y="273.80" width="5.06" height="5.136" fill="#5f9bd3"/>
<rect x="119.10" y="273.80" width="5.06" height="5.136" fill="#fdb365"/>
<rect x="124.16" y="273.80" width="5.06" height="5.136" fill="#fee38f"/>
<rect x="129.22" y="273.80" width="5.06" height="5.136" fill="#fff6b0"/>
<rect x="134.28" y="273.80" width="5.06" height="5.136" fill="#fff6b0"/>
<rect x="139.34" y="273.80" width="5.06" height="5.136" fill="#fee38f"/>
<rect x="144.40" y="273.80" width="5.06" height="5.136" fill="#c3e0f3"/>
<rect x="149.46" y="273.80" width="5.06" height="5.136" fill="#f7fadc"/>
<rect x="154.52" y="273.80" width="5.06" height="5.136" fill="#f7fadc"/>
<rect x="159.58" y="273.80" width="5.06" height="5.136" fill="#dcedf5"/>
<rect x="164.64" y="273.80" width="5.06" height="5.136" fill="#f7fadc"/>
<rect x="31.00" y="278.94" width="5.06" height="5.136" fill="#fff6b0"/>
<rect x="36.06" y="278.94" width="5.06" height="5.136" fill="#fff6b0"/>
<rect x="41.12" y="278.94" width="5.06" height="5.136" fill="#f7fadc"/>
<rect x="46.18" y="278.94" width="5.06" height="5.136" fill="#dcedf5"/>
<rect x="51.24" y="278.94" width="5.06" height="5.136" fill="#f7fadc"/>
<rect x="56.30" y="278.94" width="5.06" height="5.136" fill="#fdb365"/>
<rect x="61.36" y="278.94" width="5.06" height="5.136" fill="#fff6b0"/>
<rect x="66.42" y="278.94" width="5.06" height="5.136" fill="#fdca78"/>
<rect x="71.48" y="278.94" width="5.06" height="5.136" fill="#fee38f"/>
<rect x="76.54" y="278.94" width="5.06" height="5.136" fill="#fff6b0"/>
<rect x="81.60" y="278.94" width="5.06" height="5.136" fill="#fff6b0"/>
<rect x="86.66" y="278.94" width="5.06" height="5.136" fill="#fff6b0"/>
<rect x="93.80" y="278.94" width="5.06" height="5.136" fill="#c3e0f3"/>
<rect x="98.86" y="278.94" width="5.06" height="5.136" fill="#fff6b0"/>
<rect x="103.92" y="278.94" width="5.06" height="5.136" fill="#9acaea"/>
<rect x="108.98" y="278.94" width="5.06" height="5.136" fill="#c3e0f3"/>
<rect x="114.04" y="278.94" width="5.06" height="5.136" fill="#9acaea"/>
<rect x="119.10" y="278.94" width="5.06" height="5.136" fill="#fff6b0"/>
<rect x="124.16" y="278.94" width="5.06" height="5.136" fill="#f7fadc"/>
<rect x="129.22" y="278.94" width="5.06" height="5.136" fill="#fff6b0"/>
<rect x="134.28" y="278.94" width="5.06" height="5.136" fill="#fff6b0"/>
<rect x="139.34" y="278.94" width="5.06" height="5.136" fill="#fee38f"/>
<rect x="144.40" y="278.94" width="5.06" height="5.136" fill="#f7fadc"/>
<rect x="149.46" y="278.94" width="5.06" height="5.136" fill="#f7fadc"/>
<rect x="154.52" y="278.94" width="5.06" height="5.136" fill="#f7fadc"/>
<rect x="159.58" y="278.94" width="5.06" height="5.136" fill="#dcedf5"/>
<rect x="164.64" y="278.94" width="5.06" height="5.136" fill="#c3e0f3"/>
<rect x="31.00" y="284.08" width="5.06" height="5.136" fill="#f7fadc"/>
<rect x="36.06" y="284.08" width="5.06" height="5.136" fill="#fee38f"/>
<rect x="41.12" y="284.08" width="5.06" height="5.136" fill="#fff6b0"/>
<rect x="46.18" y="284.08" width="5.06" height="5.136" fill="#c3e0f3"/>
<rect x="51.24" y="284.08" width="5.06" height="5.136" fill="#f7fadc"/>
<rect x="56.30" y="284.08" width="5.06" height="5.136" fill="#fee38f"/>
<rect x="61.36" y="284.08" width="5.06" height="5.136" fill="#fee38f"/>
<rect x="66.42" y="284.08" width="5.06" height="5.136" fill="#fdca78"/>
<rect x="71.48" y="284.08" width="5.06" height="5.136" fill="#fee38f"/>
<rect x="76.54" y="284.08" width="5.06" height="5.136" fill="#fee38f"/>
<rect x="81.60" y="284.08" width="5.06" height="5.136" fill="#fff6b0"/>
<rect x="86.66" y="284.08" width="5.06" height="5.136" fill="#fff6b0"/>
<rect x="93.80" y="284.08" width="5.06" height="5.136" fill="#dcedf5"/>
<rect x="98.86" y="284.08" width="5.06" height="5.136" fill="#f7fadc"/>
<rect x="103.92" y="284.08" width="5.06" height="5.136" fill="#9acaea"/>
<rect x="108.98" y="284.08" width="5.06" height="5.136" fill="#c3e0f3"/>
<rect x="114.04" y="284.08" width="5.06" height="5.136" fill="#9acaea"/>
<rect x="119.10" y="284.08" width="5.06" height="5.136" fill="#f7fadc"/>
<rect x="124.16" y="284.08" width="5.06" height="5.136" fill="#fff6b0"/>
<rect x="129.22" y="284.08" width="5.06" height="5.136" fill="#f7fadc"/>
<rect x="134.28" y="284.08" width="5.06" height="5.136" fill="#f7fadc"/>
<rect x="139.34" y="284.08" width="5.06" height="5.136" fill="#f7fadc"/>
<rect x="144.40" y="284.08" width="5.06" height="5.136" fill="#f7fadc"/>
<rect x="149.46" y="284.08" width="5.06" height="5.136" fill="#f7fadc"/>
<rect x="154.52" y="284.08" width="5.06" height="5.136" fill="#f7fadc"/>
<rect x="159.58" y="284.08" width="5.06" height="5.136" fill="#dcedf5"/>
<rect x="164.64" y="284.08" width="5.06" height="5.136" fill="#f7fadc"/>
<rect x="31.00" y="289.21" width="5.06" height="5.136" fill="#fee38f"/>
<rect x="36.06" y="289.21" width="5.06" height="5.136" fill="#f7fadc"/>
<rect x="41.12" y="289.21" width="5.06" height="5.136" fill="#c3e0f3"/>
<rect x="46.18" y="289.21" width="5.06" height="5.136" fill="#fff6b0"/>
<rect x="51.24" y="289.21" width="5.06" height="5.136" fill="#fdb365"/>
<rect x="56.30" y="289.21" width="5.06" height="5.136" fill="#f7fadc"/>
<rect x="61.36" y="289.21" width="5.06" height="5.136" fill="#fff6b0"/>
<rect x="66.42" y="289.21" width="5.06" height="5.136" fill="#fff6b0"/>
<rect x="71.48" y="289.21" width="5.06" height="5.136" fill="#fff6b0"/>
<rect x="76.54" y="289.21" width="5.06" height="5.136" fill="#fff6b0"/>
<rect x="81.60" y="289.21" width="5.06" height="5.136" fill="#c3e0f3"/>
<rect x="86.66" y="289.21" width="5.06" height="5.136" fill="#fff6b0"/>
<rect x="93.80" y="289.21" width="5.06" height="5.136" fill="#5f9bd3"/>
<rect x="98.86" y="289.21" width="5.06" height="5.136" fill="#fff6b0"/>
<rect x="103.92" y="289.21" width="5.06" height="5.136" fill="#5f9bd3"/>
<rect x="108.98" y="289.21" width="5.06" height="5.136" fill="#9acaea"/>
<rect x="114.04" y="289.21" width="5.06" height="5.136" fill="#dcedf5"/>
<rect x="119.10" y="289.21" width="5.06" height="5.136" fill="#f7fadc"/>
<rect x="124.16" y="289.21" width="5.06" height="5.136" fill="#fff6b0"/>
<rect x="129.22" y="289.21" width="5.06" height="5.136" fill="#fdca78"/>
<rect x="134.28" y="289.21" width="5.06" height="5.136" fill="#fff6b0"/>
<rect x="139.34" y="289.21" width="5.06" height="5.136" fill="#f7fadc"/>
<rect x="144.40" y="289.21" width="5.06" height="5.136" fill="#fee38f"/>
<rect x="149.46" y="289.21" width="5.06" height="5.136" fill="#fdca78"/>
<rect x="154.52" y="289.21" width="5.06" height="5.136" fill="#fee38f"/>
<rect x="159.58" y="289.21" width="5.06" height="5.136" fill="#c3e0f3"/>
<rect x="164.64" y="289.21" width="5.06" height="5.136" fill="#dcedf5"/>
<rect x="31.00" y="294.35" width="5.06" height="5.136" fill="#fdca78"/>
<rect x="36.06" y="294.35" width="5.06" height="5.136" fill="#f7fadc"/>
<rect x="41.12" y="294.35" width="5.06" height="5.136" fill="#fff6b0"/>
<rect x="46.18" y="294.35" width="5.06" height="5.136" fill="#fdca78"/>
<rect x="51.24" y="294.35" width="5.06" height="5.136" fill="#dcedf5"/>
<rect x="56.30" y="294.35" width="5.06" height="5.136" fill="#f7fadc"/>
<rect x="61.36" y="294.35" width="5.06" height="5.136" fill="#f7fadc"/>
<rect x="66.42" y="294.35" width="5.06" height="5.136" fill="#fff6b0"/>
<rect x="71.48" y="294.35" width="5.06" height="5.136" fill="#fff6b0"/>
<rect x="76.54" y="294.35" width="5.06" height="5.136" fill="#fff6b0"/>
<rect x="81.60" y="294.35" width="5.06" height="5.136" fill="#fff6b0"/>
<rect x="86.66" y="294.35" width="5.06" height="5.136" fill="#f7fadc"/>
<rect x="93.80" y="294.35" width="5.06" height="5.136" fill="#f7fadc"/>
<rect x="98.86" y="294.35" width="5.06" height="5.136" fill="#9acaea"/>
<rect x="103.92" y="294.35" width="5.06" height="5.136" fill="#f7fadc"/>
<rect x="108.98" y="294.35" width="5.06" height="5.136" fill="#f7fadc"/>
<rect x="114.04" y="294.35" width="5.06" height="5.136" fill="#fee38f"/>
<rect x="119.10" y="294.35" width="5.06" height="5.136" fill="#f7fadc"/>
<rect x="124.16" y="294.35" width="5.06" height="5.136" fill="#fff6b0"/>
<rect x="129.22" y="294.35" width="5.06" height="5.136" fill="#fff6b0"/>
<rect x="134.28" y="294.35" width="5.06" height="5.136" fill="#fee38f"/>
<rect x="139.34" y="294.35" width="5.06" height="5.136" fill="#c3e0f3"/>
<rect x="144.40" y="294.35" width="5.06" height="5.136" fill="#dcedf5"/>
<rect x="149.46" y="294.35" width="5.06" height="5.136" fill="#f7fadc"/>
<rect x="154.52" y="294.35" width="5.06" height="5.136" fill="#f7fadc"/>
<rect x="159.58" y="294.35" width="5.06" height="5.136" fill="#dcedf5"/>
<rect x="164.64" y="294.35" width="5.06" height="5.136" fill="#dcedf5"/>
<rect x="31.00" y="299.48" width="5.06" height="5.136" fill="#f67745"/>
<rect x="36.06" y="299.48" width="5.06" height="5.136" fill="#fee38f"/>
<rect x="41.12" y="299.48" width="5.06" height="5.136" fill="#f7fadc"/>
<rect x="46.18" y="299.48" width="5.06" height="5.136" fill="#fee38f"/>
<rect x="51.24" y="299.48" width="5.06" height="5.136" fill="#f7fadc"/>
<rect x="56.30" y="299.48" width="5.06" height="5.136" fill="#fff6b0"/>
<rect x="61.36" y="299.48" width="5.06" height="5.136" fill="#fff6b0"/>
<rect x="66.42" y="299.48" width="5.06" height="5.136" fill="#fee38f"/>
<rect x="71.48" y="299.48" width="5.06" height="5.136" fill="#f7fadc"/>
<rect x="76.54" y="299.48" width="5.06" height="5.136" fill="#fff6b0"/>
<rect x="81.60" y="299.48" width="5.06" height="5.136" fill="#fee38f"/>
<rect x="86.66" y="299.48" width="5.06" height="5.136" fill="#fff6b0"/>
<rect x="93.80" y="299.48" width="5.06" height="5.136" fill="#dcedf5"/>
<rect x="98.86" y="299.48" width="5.06" height="5.136" fill="#dcedf5"/>
<rect x="103.92" y="299.48" width="5.06" height="5.136" fill="#c3e0f3"/>
<rect x="108.98" y="299.48" width="5.06" height="5.136" fill="#9acaea"/>
<rect x="114.04" y="299.48" width="5.06" height="5.136" fill="#dcedf5"/>
<rect x="119.10" y="299.48" width="5.06" height="5.136" fill="#c3e0f3"/>
<rect x="124.16" y="299.48" width="5.06" height="5.136" fill="#dcedf5"/>
<rect x="129.22" y="299.48" width="5.06" height="5.136" fill="#f7fadc"/>
<rect x="134.28" y="299.48" width="5.06" height="5.136" fill="#fdca78"/>
<rect x="139.34" y="299.48" width="5.06" height="5.136" fill="#f7fadc"/>
<rect x="144.40" y="299.48" width="5.06" height="5.136" fill="#fff6b0"/>
<rect x="149.46" y="299.48" width="5.06" height="5.136" fill="#fff6b0"/>
<rect x="154.52" y="299.48" width="5.06" height="5.136" fill="#f7fadc"/>
<rect x="159.58" y="299.48" width="5.06" height="5.136" fill="#f7fadc"/>
<rect x="164.64" y="299.48" width="5.06" height="5.136" fill="#f7fadc"/>
<rect x="31.00" y="304.62" width="5.06" height="5.136" fill="#fdb365"/>
<rect x="36.06" y="304.62" width="5.06" height="5.136" fill="#fee38f"/>
<rect x="41.12" y="304.62" width="5.06" height="5.136" fill="#fdca78"/>
<rect x="46.18" y="304.62" width="5.06" height="5.136" fill="#fee38f"/>
<rect x="51.24" y="304.62" width="5.06" height="5.136" fill="#fff6b0"/>
<rect x="56.30" y="304.62" width="5.06" height="5.136" fill="#fff6b0"/>
<rect x="61.36" y="304.62" width="5.06" height="5.136" fill="#fff6b0"/>
<rect x="66.42" y="304.62" width="5.06" height="5.136" fill="#fff6b0"/>
<rect x="71.48" y="304.62" width="5.06" height="5.136" fill="#fff6b0"/>
<rect x="76.54" y="304.62" width="5.06" height="5.136" fill="#fee38f"/>
<rect x="81.60" y="304.62" width="5.06" height="5.136" fill="#fff6b0"/>
<rect x="86.66" y="304.62" width="5.06" height="5.136" fill="#fff6b0"/>
<rect x="93.80" y="304.62" width="5.06" height="5.136" fill="#9acaea"/>
<rect x="98.86" y="304.62" width="5.06" height="5.136" fill="#f7fadc"/>
<rect x="103.92" y="304.62" width="5.06" height="5.136" fill="#c3e0f3"/>
<rect x="108.98" y="304.62" width="5.06" height="5.136" fill="#c3e0f3"/>
<rect x="114.04" y="304.62" width="5.06" height="5.136" fill="#f7fadc"/>
<rect x="119.10" y="304.62" width="5.06" height="5.136" fill="#c3e0f3"/>
<rect x="124.16" y="304.62" width="5.06" height="5.136" fill="#c3e0f3"/>
<rect x="129.22" y="304.62" width="5.06" height="5.136" fill="#f7fadc"/>
<rect x="134.28" y="304.62" width="5.06" height="5.136" fill="#fee38f"/>
<rect x="139.34" y="304.62" width="5.06" height="5.136" fill="#f7fadc"/>
<rect x="144.40" y="304.62" width="5.06" height="5.136" fill="#fee38f"/>
<rect x="149.46" y="304.62" width="5.06" height="5.136" fill="#f7fadc"/>
<rect x="154.52" y="304.62" width="5.06" height="5.136" fill="#dcedf5"/>
<rect x="159.58" y="304.62" width="5.06" height="5.136" fill="#f7fadc"/>
<rect x="164.64" y="304.62" width="5.06" height="5.136" fill="#dcedf5"/>
<rect x="31.00" y="309.76" width="5.06" height="5.136" fill="#fdca78"/>
<rect x="36.06" y="309.76" width="5.06" height="5.136" fill="#fee38f"/>
<rect x="41.12" y="309.76" width="5.06" height="5.136" fill="#fdca78"/>
<rect x="46.18" y="309.76" width="5.06" height="5.136" fill="#fee38f"/>
<rect x="51.24" y="309.76" width="5.06" height="5.136" fill="#f7fadc"/>
<rect x="56.30" y="309.76" width="5.06" height="5.136" fill="#fff6b0"/>
<rect x="61.36" y="309.76" width="5.06" height="5.136" fill="#fff6b0"/>
<rect x="66.42" y="309.76" width="5.06" height="5.136" fill="#fff6b0"/>
<rect x="71.48" y="309.76" width="5.06" height="5.136" fill="#fff6b0"/>
<rect x="76.54" y="309.76" width="5.06" height="5.136" fill="#fee38f"/>
<rect x="81.60" y="309.76" width="5.06" height="5.136" fill="#fff6b0"/>
<rect x="86.66" y="309.76" width="5.06" height="5.136" fill="#fff6b0"/>
<rect x="93.80" y="309.76" width="5.06" height="5.136" fill="#dcedf5"/>
<rect x="98.86" y="309.76" width="5.06" height="5.136" fill="#c3e0f3"/>
<rect x="103.92" y="309.76" width="5.06" height="5.136" fill="#f7fadc"/>
<rect x="108.98" y="309.76" width="5.06" height="5.136" fill="#dcedf5"/>
<rect x="114.04" y="309.76" width="5.06" height="5.136" fill="#f7fadc"/>
<rect x="119.10" y="309.76" width="5.06" height="5.136" fill="#dcedf5"/>
<rect x="124.16" y="309.76" width="5.06" height="5.136" fill="#f7fadc"/>
<rect x="129.22" y="309.76" width="5.06" height="5.136" fill="#f7fadc"/>
<rect x="134.28" y="309.76" width="5.06" height="5.136" fill="#fff6b0"/>
<rect x="139.34" y="309.76" width="5.06" height="5.136" fill="#f7fadc"/>
<rect x="144.40" y="309.76" width="5.06" height="5.136" fill="#fff6b0"/>
<rect x="149.46" y="309.76" width="5.06" height="5.136" fill="#f7fadc"/>
<rect x="154.52" y="309.76" width="5.06" height="5.136" fill="#f7fadc"/>
<rect x="159.58" y="309.76" width="5.06" height="5.136" fill="#dcedf5"/>
<rect x="164.64" y="309.76" width="5.06" height="5.136" fill="#f7fadc"/>
<rect x="31.00" y="314.89" width="5.06" height="5.136" fill="#fee38f"/>
<rect x="36.06" y="314.89" width="5.06" height="5.136" fill="#fdca78"/>
<rect x="41.12" y="314.89" width="5.06" height="5.136" fill="#fff6b0"/>
<rect x="46.18" y="314.89" width="5.06" height="5.136" fill="#fdca78"/>
<rect x="51.24" y="314.89" width="5.06" height="5.136" fill="#dcedf5"/>
<rect x="56.30" y="314.89" width="5.06" height="5.136" fill="#fee38f"/>
<rect x="61.36" y="314.89" width="5.06" height="5.136" fill="#fff6b0"/>
<rect x="66.42" y="314.89" width="5.06" height="5.136" fill="#fff6b0"/>
<rect x="71.48" y="314.89" width="5.06" height="5.136" fill="#fee38f"/>
<rect x="76.54" y="314.89" width="5.06" height="5.136" fill="#fee38f"/>
<rect x="81.60" y="314.89" width="5.06" height="5.136" fill="#fff6b0"/>
<rect x="86.66" y="314.89" width="5.06" height="5.136" fill="#fff6b0"/>
<rect x="93.80" y="314.89" width="5.06" height="5.136" fill="#c3e0f3"/>
<rect x="98.86" y="314.89" width="5.06" height="5.136" fill="#c3e0f3"/>
<rect x="103.92" y="314.89" width="5.06" height="5.136" fill="#fee38f"/>
<rect x="108.98" y="314.89" width="5.06" height="5.136" fill="#dcedf5"/>
<rect x="114.04" y="314.89" width="5.06" height="5.136" fill="#c3e0f3"/>
<rect x="119.10" y="314.89" width="5.06" height="5.136" fill="#f7fadc"/>
<rect x="124.16" y="314.89" width="5.06" height="5.136" fill="#fff6b0"/>
<rect x="129.22" y="314.89" width="5.06" height="5.136" fill="#fff6b0"/>
<rect x="134.28" y="314.89" width="5.06" height="5.136" fill="#f7fadc"/>
<rect x="139.34" y="314.89" width="5.06" height="5.136" fill="#fff6b0"/>
<rect x="144.40" y="314.89" width="5.06" height="5.136" fill="#f7fadc"/>
<rect x="149.46" y="314.89" width="5.06" height="5.136" fill="#f7fadc"/>
<rect x="154.52" y="314.89" width="5.06" height="5.136" fill="#f7fadc"/>
<rect x="159.58" y="314.89" width="5.06" height="5.136" fill="#dcedf5"/>
<rect x="164.64" y="314.89" width="5.06" height="5.136" fill="#c3e0f3"/>
<rect x="31.00" y="320.03" width="5.06" height="5.136" fill="#fff6b0"/>
<rect x="36.06" y="320.03" width="5.06" height="5.136" fill="#fdb365"/>
<rect x="41.12" y="320.03" width="5.06" height="5.136" fill="#fff6b0"/>
<rect x="46.18" y="320.03" width="5.06" height="5.136" fill="#fee38f"/>
<rect x="51.24" y="320.03" width="5.06" height="5.136" fill="#fff6b0"/>
<rect x="56.30" y="320.03" width="5.06" height="5.136" fill="#fff6b0"/>
<rect x="61.36" y="320.03" width="5.06" height="5.136" fill="#f7fadc"/>
<rect x="66.42" y="320.03" width="5.06" height="5.136" fill="#fff6b0"/>
<rect x="71.48" y="320.03" width="5.06" height="5.136" fill="#f7fadc"/>
<rect x="76.54" y="320.03" width="5.06" height="5.136" fill="#fff6b0"/>
<rect x="81.60" y="320.03" width="5.06" height="5.136" fill="#fee38f"/>
<rect x="86.66" y="320.03" width="5.06" height="5.136" fill="#fdb365"/>
<rect x="93.80" y="320.03" width="5.06" height="5.136" fill="#9acaea"/>
<rect x="98.86" y="320.03" width="5.06" height="5.136" fill="#9acaea"/>
<rect x="103.92" y="320.03" width="5.06" height="5.136" fill="#fee38f"/>
<rect x="108.98" y="320.03" width="5.06" height="5.136" fill="#c3e0f3"/>
<rect x="114.04" y="320.03" width="5.06" height="5.136" fill="#f7fadc"/>
<rect x="119.10" y="320.03" width="5.06" height="5.136" fill="#f7fadc"/>
<rect x="124.16" y="320.03" width="5.06" height="5.136" fill="#f7fadc"/>
<rect x="129.22" y="320.03" width="5.06" height="5.136" fill="#c3e0f3"/>
<rect x="134.28" y="320.03" width="5.06" height="5.136" fill="#fff6b0"/>
<rect x="139.34" y="320.03" width="5.06" height="5.136" fill="#f7fadc"/>
<rect x="144.40" y="320.03" width="5.06" height="5.136" fill="#dcedf5"/>
<rect x="149.46" y="320.03" width="5.06" height="5.136" fill="#f7fadc"/>
<rect x="154.52" y="320.03" width="5.06" height="5.136" fill="#dcedf5"/>
<rect x="159.58" y="320.03" width="5.06" height="5.136" fill="#f7fadc"/>
<rect x="164.64" y="320.03" width="5.06" height="5.136" fill="#f7fadc"/>
<rect x="31.00" y="325.16" width="5.06" height="5.136" fill="#fff6b0"/>
<rect x="36.06" y="325.16" width="5.06" height="5.136" fill="#fff6b0"/>
<rect x="41.12" y="325.16" width="5.06" height="5.136" fill="#fff6b0"/>
<rect x="46.18" y="325.16" width="5.06" height="5.136" fill="#d6eaf4"/>
<rect x="51.24" y="325.16" width="5.06" height="5.136" fill="#fff6b0"/>
<rect x="56.30" y="325.16" width="5.06" height="5.136" fill="#fff6b0"/>
<rect x="61.36" y="325.16" width="5.06" height="5.136" fill="#dcedf5"/>
<rect x="66.42" y="325.16" width="5.06" height="5.136" fill="#fee38f"/>
<rect x="71.48" y="325.16" width="5.06" height="5.136" fill="#f7fadc"/>
<rect x="76.54" y="325.16" width="5.06" height="5.136" fill="#fff6b0"/>
<rect x="81.60" y="325.16" width="5.06" height="5.136" fill="#fff6b0"/>
<rect x="86.66" y="325.16" width="5.06" height="5.136" fill="#fee38f"/>
<rect x="93.80" y="325.16" width="5.06" height="5.136" fill="#c3e0f3"/>
<rect x="98.86" y="325.16" width="5.06" height="5.136" fill="#9acaea"/>
<rect x="103.92" y="325.16" width="5.06" height="5.136" fill="#f7fadc"/>
<rect x="108.98" y="325.16" width="5.06" height="5.136" fill="#c3e0f3"/>
<rect x="114.04" y="325.16" width="5.06" height="5.136" fill="#f7fadc"/>
<rect x="119.10" y="325.16" width="5.06" height="5.136" fill="#f7fadc"/>
<rect x="124.16" y="325.16" width="5.06" height="5.136" fill="#f7fadc"/>
<rect x="129.22" y="325.16" width="5.06" height="5.136" fill="#fff6b0"/>
<rect x="134.28" y="325.16" width="5.06" height="5.136" fill="#f7fadc"/>
<rect x="139.34" y="325.16" width="5.06" height="5.136" fill="#fee38f"/>
<rect x="144.40" y="325.16" width="5.06" height="5.136" fill="#fff6b0"/>
<rect x="149.46" y="325.16" width="5.06" height="5.136" fill="#f7fadc"/>
<rect x="154.52" y="325.16" width="5.06" height="5.136" fill="#f7fadc"/>
<rect x="159.58" y="325.16" width="5.06" height="5.136" fill="#fff6b0"/>
<rect x="164.64" y="325.16" width="5.06" height="5.136" fill="#fff6b0"/>
<rect x="31.00" y="330.30" width="5.06" height="5.136" fill="#fee38f"/>
<rect x="36.06" y="330.30" width="5.06" height="5.136" fill="#fdb365"/>
<rect x="41.12" y="330.30" width="5.06" height="5.136" fill="#fdb365"/>
<rect x="46.18" y="330.30" width="5.06" height="5.136" fill="#f7fadc"/>
<rect x="51.24" y="330.30" width="5.06" height="5.136" fill="#fee38f"/>
<rect x="56.30" y="330.30" width="5.06" height="5.136" fill="#fff6b0"/>
<rect x="61.36" y="330.30" width="5.06" height="5.136" fill="#fff6b0"/>
<rect x="66.42" y="330.30" width="5.06" height="5.136" fill="#fee38f"/>
<rect x="71.48" y="330.30" width="5.06" height="5.136" fill="#fff6b0"/>
<rect x="76.54" y="330.30" width="5.06" height="5.136" fill="#f7fadc"/>
<rect x="81.60" y="330.30" width="5.06" height="5.136" fill="#fff6b0"/>
<rect x="86.66" y="330.30" width="5.06" height="5.136" fill="#fff6b0"/>
<rect x="93.80" y="330.30" width="5.06" height="5.136" fill="#c3e0f3"/>
<rect x="98.86" y="330.30" width="5.06" height="5.136" fill="#c3e0f3"/>
<rect x="103.92" y="330.30" width="5.06" height="5.136" fill="#fff6b0"/>
<rect x="108.98" y="330.30" width="5.06" height="5.136" fill="#9acaea"/>
<rect x="114.04" y="330.30" width="5.06" height="5.136" fill="#f7fadc"/>
<rect x="119.10" y="330.30" width="5.06" height="5.136" fill="#c3e0f3"/>
<rect x="124.16" y="330.30" width="5.06" height="5.136" fill="#f7fadc"/>
<rect x="129.22" y="330.30" width="5.06" height="5.136" fill="#fff6b0"/>
<rect x="134.28" y="330.30" width="5.06" height="5.136" fill="#fee38f"/>
<rect x="139.34" y="330.30" width="5.06" height="5.136" fill="#f7fadc"/>
<rect x="144.40" y="330.30" width="5.06" height="5.136" fill="#fdca78"/>
<rect x="149.46" y="330.30" width="5.06" height="5.136" fill="#f7fadc"/>
<rect x="154.52" y="330.30" width="5.06" height="5.136" fill="#f7fadc"/>
<rect x="159.58" y="330.30" width="5.06" height="5.136" fill="#dcedf5"/>
<rect x="164.64" y="330.30" width="5.06" height="5.136" fill="#f7fadc"/>
<rect x="31.00" y="335.44" width="5.06" height="5.136" fill="#fee38f"/>
<rect x="36.06" y="335.44" width="5.06" height="5.136" fill="#fc9957"/>
<rect x="41.12" y="335.44" width="5.06" height="5.136" fill="#fdca78"/>
<rect x="46.18" y="335.44" width="5.06" height="5.136" fill="#f7fadc"/>
<rect x="51.24" y="335.44" width="5.06" height="5.136" fill="#fff6b0"/>
<rect x="56.30" y="335.44" width="5.06" height="5.136" fill="#fff6b0"/>
<rect x="61.36" y="335.44" width="5.06" height="5.136" fill="#f7fadc"/>
<rect x="66.42" y="335.44" width="5.06" height="5.136" fill="#fff6b0"/>
<rect x="71.48" y="335.44" width="5.06" height="5.136" fill="#fff6b0"/>
<rect x="76.54" y="335.44" width="5.06" height="5.136" fill="#fff6b0"/>
<rect x="81.60" y="335.44" width="5.06" height="5.136" fill="#fff6b0"/>
<rect x="86.66" y="335.44" width="5.06" height="5.136" fill="#fff6b0"/>
<rect x="93.80" y="335.44" width="5.06" height="5.136" fill="#c3e0f3"/>
<rect x="98.86" y="335.44" width="5.06" height="5.136" fill="#c3e0f3"/>
<rect x="103.92" y="335.44" width="5.06" height="5.136" fill="#fff6b0"/>
<rect x="108.98" y="335.44" width="5.06" height="5.136" fill="#c3e0f3"/>
<rect x="114.04" y="335.44" width="5.06" height="5.136" fill="#dcedf5"/>
<rect x="119.10" y="335.44" width="5.06" height="5.136" fill="#c3e0f3"/>
<rect x="124.16" y="335.44" width="5.06" height="5.136" fill="#f7fadc"/>
<rect x="129.22" y="335.44" width="5.06" height="5.136" fill="#fff6b0"/>
<rect x="134.28" y="335.44" width="5.06" height="5.136" fill="#fff6b0"/>
<rect x="139.34" y="335.44" width="5.06" height="5.136" fill="#fff6b0"/>
<rect x="144.40" y="335.44" width="5.06" height="5.136" fill="#fff6b0"/>
<rect x="149.46" y="335.44" width="5.06" height="5.136" fill="#f7fadc"/>
<rect x="154.52" y="335.44" width="5.06" height="5.136" fill="#dcedf5"/>
<rect x="159.58" y="335.44" width="5.06" height="5.136" fill="#dcedf5"/>
<rect x="164.64" y="335.44" width="5.06" height="5.136" fill="#f7fadc"/>
<rect x="31.00" y="340.57" width="5.06" height="5.136" fill="#fee38f"/>
<rect x="36.06" y="340.57" width="5.06" height="5.136" fill="#fc9957"/>
<rect x="41.12" y="340.57" width="5.06" height="5.136" fill="#fdb365"/>
<rect x="46.18" y="340.57" width="5.06" height="5.136" fill="#f7fadc"/>
<rect x="51.24" y="340.57" width="5.06" height="5.136" fill="#fff6b0"/>
<rect x="56.30" y="340.57" width="5.06" height="5.136" fill="#fff6b0"/>
<rect x="61.36" y="340.57" width="5.06" height="5.136" fill="#fff6b0"/>
<rect x="66.42" y="340.57" width="5.06" height="5.136" fill="#fff6b0"/>
<rect x="71.48" y="340.57" width="5.06" height="5.136" fill="#fff6b0"/>
<rect x="76.54" y="340.57" width="5.06" height="5.136" fill="#fee38f"/>
<rect x="81.60" y="340.57" width="5.06" height="5.136" fill="#fdb365"/>
<rect x="86.66" y="340.57" width="5.06" height="5.136" fill="#fff6b0"/>
<rect x="93.80" y="340.57" width="5.06" height="5.136" fill="#c3e0f3"/>
<rect x="98.86" y="340.57" width="5.06" height="5.136" fill="#5f9bd3"/>
<rect x="103.92" y="340.57" width="5.06" height="5.136" fill="#dcedf5"/>
<rect x="108.98" y="340.57" width="5.06" height="5.136" fill="#dcedf5"/>
<rect x="114.04" y="340.57" width="5.06" height="5.136" fill="#c3e0f3"/>
<rect x="119.10" y="340.57" width="5.06" height="5.136" fill="#f7fadc"/>
<rect x="124.16" y="340.57" width="5.06" height="5.136" fill="#f7fadc"/>
<rect x="129.22" y="340.57" width="5.06" height="5.136" fill="#f7fadc"/>
<rect x="134.28" y="340.57" width="5.06" height="5.136" fill="#f7fadc"/>
<rect x="139.34" y="340.57" width="5.06" height="5.136" fill="#fff6b0"/>
<rect x="144.40" y="340.57" width="5.06" height="5.136" fill="#f7fadc"/>
<rect x="149.46" y="340.57" width="5.06" height="5.136" fill="#f7fadc"/>
<rect x="154.52" y="340.57" width="5.06" height="5.136" fill="#c3e0f3"/>
<rect x="159.58" y="340.57" width="5.06" height="5.136" fill="#dcedf5"/>
<rect x="164.64" y="340.57" width="5.06" height="5.136" fill="#f7fadc"/>
<rect x="31.00" y="345.71" width="5.06" height="5.136" fill="#fdca78"/>
<rect x="36.06" y="345.71" width="5.06" height="5.136" fill="#fee38f"/>
<rect x="41.12" y="345.71" width="5.06" height="5.136" fill="#fee38f"/>
<rect x="46.18" y="345.71" width="5.06" height="5.136" fill="#d6eaf4"/>
<rect x="51.24" y="345.71" width="5.06" height="5.136" fill="#fff6b0"/>
<rect x="56.30" y="345.71" width="5.06" height="5.136" fill="#fee38f"/>
<rect x="61.36" y="345.71" width="5.06" height="5.136" fill="#fff6b0"/>
<rect x="66.42" y="345.71" width="5.06" height="5.136" fill="#fff6b0"/>
<rect x="71.48" y="345.71" width="5.06" height="5.136" fill="#fee38f"/>
<rect x="76.54" y="345.71" width="5.06" height="5.136" fill="#fff6b0"/>
<rect x="81.60" y="345.71" width="5.06" height="5.136" fill="#fff6b0"/>
<rect x="86.66" y="345.71" width="5.06" height="5.136" fill="#fee38f"/>
<rect x="93.80" y="345.71" width="5.06" height="5.136" fill="#c3e0f3"/>
<rect x="98.86" y="345.71" width="5.06" height="5.136" fill="#c3e0f3"/>
<rect x="103.92" y="345.71" width="5.06" height="5.136" fill="#dcedf5"/>
<rect x="108.98" y="345.71" width="5.06" height="5.136" fill="#dcedf5"/>
<rect x="114.04" y="345.71" width="5.06" height="5.136" fill="#dcedf5"/>
<rect x="119.10" y="345.71" width="5.06" height="5.136" fill="#c3e0f3"/>
<rect x="124.16" y="345.71" width="5.06" height="5.136" fill="#dcedf5"/>
<rect x="129.22" y="345.71" width="5.06" height="5.136" fill="#f7fadc"/>
<rect x="134.28" y="345.71" width="5.06" height="5.136" fill="#f7fadc"/>
<rect x="139.34" y="345.71" width="5.06" height="5.136" fill="#fee38f"/>
<rect x="144.40" y="345.71" width="5.06" height="5.136" fill="#fee38f"/>
<rect x="149.46" y="345.71" width="5.06" height="5.136" fill="#f7fadc"/>
<rect x="154.52" y="345.71" width="5.06" height="5.136" fill="#c3e0f3"/>
<rect x="159.58" y="345.71" width="5.06" height="5.136" fill="#dcedf5"/>
<rect x="164.64" y="345.71" width="5.06" height="5.136" fill="#f7fadc"/>
<path d="M31.00 201.90V350.84M36.06 201.90V350.84M41.12 201.90V350.84M46.18 201.90V350.84M51.24 201.90V350.84M56.30 201.90V350.84M61.36 201.90V350.84M66.42 201.90V350.84M71.48 201.90V350.84M76.54 201.90V350.84M81.60 201.90V350.84M86.66 201.90V350.84M91.72 201.90V350.84M31.00 201.90H91.72M31.00 207.04H91.72M31.00 212.17H91.72M31.00 217.31H91.72M31.00 222.44H91.72M31.00 227.58H91.72M31.00 232.72H91.72M31.00 237.85H91.72M31.00 242.99H91.72M31.00 248.12H91.72M31.00 253.26H91.72M31.00 258.40H91.72M31.00 263.53H91.72M31.00 268.67H91.72M31.00 273.80H91.72M31.00 278.94H91.72M31.00 284.08H91.72M31.00 289.21H91.72M31.00 294.35H91.72M31.00 299.48H91.72M31.00 304.62H91.72M31.00 309.76H91.72M31.00 314.89H91.72M31.00 320.03H91.72M31.00 325.16H91.72M31.00 330.30H91.72M31.00 335.44H91.72M31.00 340.57H91.72M31.00 345.71H91.72M31.00 350.84H91.72" stroke="#9a9a9a" stroke-width="0.48" fill="none"/>
<path d="M93.80 201.90V350.84M98.86 201.90V350.84M103.92 201.90V350.84M108.98 201.90V350.84M114.04 201.90V350.84M119.10 201.90V350.84M124.16 201.90V350.84M129.22 201.90V350.84M134.28 201.90V350.84M139.34 201.90V350.84M144.40 201.90V350.84M149.46 201.90V350.84M154.52 201.90V350.84M159.58 201.90V350.84M164.64 201.90V350.84M169.70 201.90V350.84M93.80 201.90H169.70M93.80 207.04H169.70M93.80 212.17H169.70M93.80 217.31H169.70M93.80 222.44H169.70M93.80 227.58H169.70M93.80 232.72H169.70M93.80 237.85H169.70M93.80 242.99H169.70M93.80 248.12H169.70M93.80 253.26H169.70M93.80 258.40H169.70M93.80 263.53H169.70M93.80 268.67H169.70M93.80 273.80H169.70M93.80 278.94H169.70M93.80 284.08H169.70M93.80 289.21H169.70M93.80 294.35H169.70M93.80 299.48H169.70M93.80 304.62H169.70M93.80 309.76H169.70M93.80 314.89H169.70M93.80 320.03H169.70M93.80 325.16H169.70M93.80 330.30H169.70M93.80 335.44H169.70M93.80 340.57H169.70M93.80 345.71H169.70M93.80 350.84H169.70" stroke="#9a9a9a" stroke-width="0.48" fill="none"/>
<rect x="31.00" y="170.3" width="5.06" height="3.9" fill="#401a24"/>
<rect x="36.06" y="170.3" width="5.06" height="3.9" fill="#401a24"/>
<rect x="41.12" y="170.3" width="5.06" height="3.9" fill="#401a24"/>
<rect x="46.18" y="170.3" width="5.06" height="3.9" fill="#e9a287"/>
<rect x="51.24" y="170.3" width="5.06" height="3.9" fill="#e9a287"/>
<rect x="56.30" y="170.3" width="5.06" height="3.9" fill="#401a24"/>
<rect x="61.36" y="170.3" width="5.06" height="3.9" fill="#e9a287"/>
<rect x="66.42" y="170.3" width="5.06" height="3.9" fill="#401a24"/>
<rect x="71.48" y="170.3" width="5.06" height="3.9" fill="#e9a287"/>
<rect x="76.54" y="170.3" width="5.06" height="3.9" fill="#e9a287"/>
<rect x="81.60" y="170.3" width="5.06" height="3.9" fill="#401a24"/>
<rect x="86.66" y="170.3" width="5.06" height="3.9" fill="#e9a287"/>
<rect x="93.80" y="170.3" width="5.06" height="3.9" fill="#e9a287"/>
<rect x="98.86" y="170.3" width="5.06" height="3.9" fill="#e9a287"/>
<rect x="103.92" y="170.3" width="5.06" height="3.9" fill="#401a24"/>
<rect x="108.98" y="170.3" width="5.06" height="3.9" fill="#e9a287"/>
<rect x="114.04" y="170.3" width="5.06" height="3.9" fill="#e9a287"/>
<rect x="119.10" y="170.3" width="5.06" height="3.9" fill="#401a24"/>
<rect x="124.16" y="170.3" width="5.06" height="3.9" fill="#e9a287"/>
<rect x="129.22" y="170.3" width="5.06" height="3.9" fill="#e9a287"/>
<rect x="134.28" y="170.3" width="5.06" height="3.9" fill="#e9a287"/>
<rect x="139.34" y="170.3" width="5.06" height="3.9" fill="#e9a287"/>
<rect x="144.40" y="170.3" width="5.06" height="3.9" fill="#e9a287"/>
<rect x="149.46" y="170.3" width="5.06" height="3.9" fill="#e9a287"/>
<rect x="154.52" y="170.3" width="5.06" height="3.9" fill="#e9a287"/>
<rect x="159.58" y="170.3" width="5.06" height="3.9" fill="#e9a287"/>
<rect x="164.64" y="170.3" width="5.06" height="3.9" fill="#e9a287"/>
<path d="M31.00 170.30V174.20M36.06 170.30V174.20M41.12 170.30V174.20M46.18 170.30V174.20M51.24 170.30V174.20M56.30 170.30V174.20M61.36 170.30V174.20M66.42 170.30V174.20M71.48 170.30V174.20M76.54 170.30V174.20M81.60 170.30V174.20M86.66 170.30V174.20M91.72 170.30V174.20M31.00 170.30H91.72M31.00 174.20H91.72" stroke="#9a9a9a" stroke-width="0.48" fill="none"/>
<path d="M93.80 170.30V174.20M98.86 170.30V174.20M103.92 170.30V174.20M108.98 170.30V174.20M114.04 170.30V174.20M119.10 170.30V174.20M124.16 170.30V174.20M129.22 170.30V174.20M134.28 170.30V174.20M139.34 170.30V174.20M144.40 170.30V174.20M149.46 170.30V174.20M154.52 170.30V174.20M159.58 170.30V174.20M164.64 170.30V174.20M169.70 170.30V174.20M93.80 170.30H169.70M93.80 174.20H169.70" stroke="#9a9a9a" stroke-width="0.48" fill="none"/>
<rect x="31.00" y="175.5" width="5.06" height="3.9" fill="#ee2a22"/>
<rect x="36.06" y="175.5" width="5.06" height="3.9" fill="#ee2a22"/>
<rect x="41.12" y="175.5" width="5.06" height="3.9" fill="#ee2a22"/>
<rect x="46.18" y="175.5" width="5.06" height="3.9" fill="#ee2a22"/>
<rect x="51.24" y="175.5" width="5.06" height="3.9" fill="#ee2a22"/>
<rect x="56.30" y="175.5" width="5.06" height="3.9" fill="#3f55a6"/>
<rect x="61.36" y="175.5" width="5.06" height="3.9" fill="#ee2a22"/>
<rect x="66.42" y="175.5" width="5.06" height="3.9" fill="#3f55a6"/>
<rect x="71.48" y="175.5" width="5.06" height="3.9" fill="#ee2a22"/>
<rect x="76.54" y="175.5" width="5.06" height="3.9" fill="#ee2a22"/>
<rect x="81.60" y="175.5" width="5.06" height="3.9" fill="#ee2a22"/>
<rect x="86.66" y="175.5" width="5.06" height="3.9" fill="#ee2a22"/>
<rect x="93.80" y="175.5" width="5.06" height="3.9" fill="#3f55a6"/>
<rect x="98.86" y="175.5" width="5.06" height="3.9" fill="#3f55a6"/>
<rect x="103.92" y="175.5" width="5.06" height="3.9" fill="#3f55a6"/>
<rect x="108.98" y="175.5" width="5.06" height="3.9" fill="#3f55a6"/>
<rect x="114.04" y="175.5" width="5.06" height="3.9" fill="#ee2a22"/>
<rect x="119.10" y="175.5" width="5.06" height="3.9" fill="#3f55a6"/>
<rect x="124.16" y="175.5" width="5.06" height="3.9" fill="#3f55a6"/>
<rect x="129.22" y="175.5" width="5.06" height="3.9" fill="#3f55a6"/>
<rect x="134.28" y="175.5" width="5.06" height="3.9" fill="#ee2a22"/>
<rect x="139.34" y="175.5" width="5.06" height="3.9" fill="#3f55a6"/>
<rect x="144.40" y="175.5" width="5.06" height="3.9" fill="#3f55a6"/>
<rect x="149.46" y="175.5" width="5.06" height="3.9" fill="#3f55a6"/>
<rect x="154.52" y="175.5" width="5.06" height="3.9" fill="#3f55a6"/>
<rect x="159.58" y="175.5" width="5.06" height="3.9" fill="#3f55a6"/>
<rect x="164.64" y="175.5" width="5.06" height="3.9" fill="#3f55a6"/>
<path d="M31.00 175.50V179.40M36.06 175.50V179.40M41.12 175.50V179.40M46.18 175.50V179.40M51.24 175.50V179.40M56.30 175.50V179.40M61.36 175.50V179.40M66.42 175.50V179.40M71.48 175.50V179.40M76.54 175.50V179.40M81.60 175.50V179.40M86.66 175.50V179.40M91.72 175.50V179.40M31.00 175.50H91.72M31.00 179.40H91.72" stroke="#9a9a9a" stroke-width="0.48" fill="none"/>
<path d="M93.80 175.50V179.40M98.86 175.50V179.40M103.92 175.50V179.40M108.98 175.50V179.40M114.04 175.50V179.40M119.10 175.50V179.40M124.16 175.50V179.40M129.22 175.50V179.40M134.28 175.50V179.40M139.34 175.50V179.40M144.40 175.50V179.40M149.46 175.50V179.40M154.52 175.50V179.40M159.58 175.50V179.40M164.64 175.50V179.40M169.70 175.50V179.40M93.80 175.50H169.70M93.80 179.40H169.70" stroke="#9a9a9a" stroke-width="0.48" fill="none"/>
<rect x="31.00" y="180.7" width="5.06" height="3.9" fill="#ddf5f2"/>
<rect x="36.06" y="180.7" width="5.06" height="3.9" fill="#46ba92"/>
<rect x="41.12" y="180.7" width="5.06" height="3.9" fill="#0d9e52"/>
<rect x="46.18" y="180.7" width="5.06" height="3.9" fill="#6cc9ae"/>
<rect x="51.24" y="180.7" width="5.06" height="3.9" fill="#6cc9ae"/>
<rect x="56.30" y="180.7" width="5.06" height="3.9" fill="#ddf5f2"/>
<rect x="61.36" y="180.7" width="5.06" height="3.9" fill="#6cc9ae"/>
<rect x="66.42" y="180.7" width="5.06" height="3.9" fill="#ddf5f2"/>
<rect x="71.48" y="180.7" width="5.06" height="3.9" fill="#6cc9ae"/>
<rect x="76.54" y="180.7" width="5.06" height="3.9" fill="#6cc9ae"/>
<rect x="81.60" y="180.7" width="5.06" height="3.9" fill="#ddf5f2"/>
<rect x="86.66" y="180.7" width="5.06" height="3.9" fill="#1ea862"/>
<rect x="93.80" y="180.7" width="5.06" height="3.9" fill="#ddf5f2"/>
<rect x="98.86" y="180.7" width="5.06" height="3.9" fill="#ddf5f2"/>
<rect x="103.92" y="180.7" width="5.06" height="3.9" fill="#1ea862"/>
<rect x="108.98" y="180.7" width="5.06" height="3.9" fill="#ddf5f2"/>
<rect x="114.04" y="180.7" width="5.06" height="3.9" fill="#b9e8e0"/>
<rect x="119.10" y="180.7" width="5.06" height="3.9" fill="#ddf5f2"/>
<rect x="124.16" y="180.7" width="5.06" height="3.9" fill="#6cc9ae"/>
<rect x="129.22" y="180.7" width="5.06" height="3.9" fill="#96dbcd"/>
<rect x="134.28" y="180.7" width="5.06" height="3.9" fill="#6cc9ae"/>
<rect x="139.34" y="180.7" width="5.06" height="3.9" fill="#b9e8e0"/>
<rect x="144.40" y="180.7" width="5.06" height="3.9" fill="#0d9e52"/>
<rect x="149.46" y="180.7" width="5.06" height="3.9" fill="#ddf5f2"/>
<rect x="154.52" y="180.7" width="5.06" height="3.9" fill="#46ba92"/>
<rect x="159.58" y="180.7" width="5.06" height="3.9" fill="#ddf5f2"/>
<rect x="164.64" y="180.7" width="5.06" height="3.9" fill="#ddf5f2"/>
<path d="M31.00 180.70V184.60M36.06 180.70V184.60M41.12 180.70V184.60M46.18 180.70V184.60M51.24 180.70V184.60M56.30 180.70V184.60M61.36 180.70V184.60M66.42 180.70V184.60M71.48 180.70V184.60M76.54 180.70V184.60M81.60 180.70V184.60M86.66 180.70V184.60M91.72 180.70V184.60M31.00 180.70H91.72M31.00 184.60H91.72" stroke="#9a9a9a" stroke-width="0.48" fill="none"/>
<path d="M93.80 180.70V184.60M98.86 180.70V184.60M103.92 180.70V184.60M108.98 180.70V184.60M114.04 180.70V184.60M119.10 180.70V184.60M124.16 180.70V184.60M129.22 180.70V184.60M134.28 180.70V184.60M139.34 180.70V184.60M144.40 180.70V184.60M149.46 180.70V184.60M154.52 180.70V184.60M159.58 180.70V184.60M164.64 180.70V184.60M169.70 180.70V184.60M93.80 180.70H169.70M93.80 184.60H169.70" stroke="#9a9a9a" stroke-width="0.48" fill="none"/>
<rect x="31.00" y="185.9" width="5.06" height="3.9" fill="#000000"/>
<rect x="36.06" y="185.9" width="5.06" height="3.9" fill="#ffffff"/>
<rect x="41.12" y="185.9" width="5.06" height="3.9" fill="#ffffff"/>
<rect x="46.18" y="185.9" width="5.06" height="3.9" fill="#000000"/>
<rect x="51.24" y="185.9" width="5.06" height="3.9" fill="#ffffff"/>
<rect x="56.30" y="185.9" width="5.06" height="3.9" fill="#000000"/>
<rect x="61.36" y="185.9" width="5.06" height="3.9" fill="#ffffff"/>
<rect x="66.42" y="185.9" width="5.06" height="3.9" fill="#000000"/>
<rect x="71.48" y="185.9" width="5.06" height="3.9" fill="#ffffff"/>
<rect x="76.54" y="185.9" width="5.06" height="3.9" fill="#000000"/>
<rect x="81.60" y="185.9" width="5.06" height="3.9" fill="#000000"/>
<rect x="86.66" y="185.9" width="5.06" height="3.9" fill="#ffffff"/>
<rect x="93.80" y="185.9" width="5.06" height="3.9" fill="#000000"/>
<rect x="98.86" y="185.9" width="5.06" height="3.9" fill="#000000"/>
<rect x="103.92" y="185.9" width="5.06" height="3.9" fill="#ffffff"/>
<rect x="108.98" y="185.9" width="5.06" height="3.9" fill="#000000"/>
<rect x="114.04" y="185.9" width="5.06" height="3.9" fill="#000000"/>
<rect x="119.10" y="185.9" width="5.06" height="3.9" fill="#000000"/>
<rect x="124.16" y="185.9" width="5.06" height="3.9" fill="#000000"/>
<rect x="129.22" y="185.9" width="5.06" height="3.9" fill="#000000"/>
<rect x="134.28" y="185.9" width="5.06" height="3.9" fill="#ffffff"/>
<rect x="139.34" y="185.9" width="5.06" height="3.9" fill="#000000"/>
<rect x="144.40" y="185.9" width="5.06" height="3.9" fill="#ffffff"/>
<rect x="149.46" y="185.9" width="5.06" height="3.9" fill="#000000"/>
<rect x="154.52" y="185.9" width="5.06" height="3.9" fill="#ffffff"/>
<rect x="159.58" y="185.9" width="5.06" height="3.9" fill="#000000"/>
<rect x="164.64" y="185.9" width="5.06" height="3.9" fill="#000000"/>
<path d="M31.00 185.90V189.80M36.06 185.90V189.80M41.12 185.90V189.80M46.18 185.90V189.80M51.24 185.90V189.80M56.30 185.90V189.80M61.36 185.90V189.80M66.42 185.90V189.80M71.48 185.90V189.80M76.54 185.90V189.80M81.60 185.90V189.80M86.66 185.90V189.80M91.72 185.90V189.80M31.00 185.90H91.72M31.00 189.80H91.72" stroke="#9a9a9a" stroke-width="0.48" fill="none"/>
<path d="M93.80 185.90V189.80M98.86 185.90V189.80M103.92 185.90V189.80M108.98 185.90V189.80M114.04 185.90V189.80M119.10 185.90V189.80M124.16 185.90V189.80M129.22 185.90V189.80M134.28 185.90V189.80M139.34 185.90V189.80M144.40 185.90V189.80M149.46 185.90V189.80M154.52 185.90V189.80M159.58 185.90V189.80M164.64 185.90V189.80M169.70 185.90V189.80M93.80 185.90H169.70M93.80 189.80H169.70" stroke="#9a9a9a" stroke-width="0.48" fill="none"/>
<rect x="31.00" y="191.1" width="5.06" height="3.9" fill="#eed536"/>
<rect x="36.06" y="191.1" width="5.06" height="3.9" fill="#eed536"/>
<rect x="41.12" y="191.1" width="5.06" height="3.9" fill="#eed536"/>
<rect x="46.18" y="191.1" width="5.06" height="3.9" fill="#86bada"/>
<rect x="51.24" y="191.1" width="5.06" height="3.9" fill="#86bada"/>
<rect x="56.30" y="191.1" width="5.06" height="3.9" fill="#a93a3a"/>
<rect x="61.36" y="191.1" width="5.06" height="3.9" fill="#5a4fb0"/>
<rect x="66.42" y="191.1" width="5.06" height="3.9" fill="#a93a3a"/>
<rect x="71.48" y="191.1" width="5.06" height="3.9" fill="#86bada"/>
<rect x="76.54" y="191.1" width="5.06" height="3.9" fill="#86bada"/>
<rect x="81.60" y="191.1" width="5.06" height="3.9" fill="#a93a3a"/>
<rect x="86.66" y="191.1" width="5.06" height="3.9" fill="#86bada"/>
<rect x="93.80" y="191.1" width="5.06" height="3.9" fill="#a93a3a"/>
<rect x="98.86" y="191.1" width="5.06" height="3.9" fill="#a93a3a"/>
<rect x="103.92" y="191.1" width="5.06" height="3.9" fill="#86bada"/>
<rect x="108.98" y="191.1" width="5.06" height="3.9" fill="#a93a3a"/>
<rect x="114.04" y="191.1" width="5.06" height="3.9" fill="#86bada"/>
<rect x="119.10" y="191.1" width="5.06" height="3.9" fill="#a93a3a"/>
<rect x="124.16" y="191.1" width="5.06" height="3.9" fill="#86bada"/>
<rect x="129.22" y="191.1" width="5.06" height="3.9" fill="#eed536"/>
<rect x="134.28" y="191.1" width="5.06" height="3.9" fill="#86bada"/>
<rect x="139.34" y="191.1" width="5.06" height="3.9" fill="#eed536"/>
<rect x="144.40" y="191.1" width="5.06" height="3.9" fill="#86bada"/>
<rect x="149.46" y="191.1" width="5.06" height="3.9" fill="#a93a3a"/>
<rect x="154.52" y="191.1" width="5.06" height="3.9" fill="#5a4fb0"/>
<rect x="159.58" y="191.1" width="5.06" height="3.9" fill="#a93a3a"/>
<rect x="164.64" y="191.1" width="5.06" height="3.9" fill="#a93a3a"/>
<path d="M31.00 191.10V195.00M36.06 191.10V195.00M41.12 191.10V195.00M46.18 191.10V195.00M51.24 191.10V195.00M56.30 191.10V195.00M61.36 191.10V195.00M66.42 191.10V195.00M71.48 191.10V195.00M76.54 191.10V195.00M81.60 191.10V195.00M86.66 191.10V195.00M91.72 191.10V195.00M31.00 191.10H91.72M31.00 195.00H91.72" stroke="#9a9a9a" stroke-width="0.48" fill="none"/>
<path d="M93.80 191.10V195.00M98.86 191.10V195.00M103.92 191.10V195.00M108.98 191.10V195.00M114.04 191.10V195.00M119.10 191.10V195.00M124.16 191.10V195.00M129.22 191.10V195.00M134.28 191.10V195.00M139.34 191.10V195.00M144.40 191.10V195.00M149.46 191.10V195.00M154.52 191.10V195.00M159.58 191.10V195.00M164.64 191.10V195.00M169.70 191.10V195.00M93.80 191.10H169.70M93.80 195.00H169.70" stroke="#9a9a9a" stroke-width="0.48" fill="none"/>
<rect x="31.00" y="196.3" width="5.06" height="3.9" fill="#cb0f23"/>
<rect x="36.06" y="196.3" width="5.06" height="3.9" fill="#2a9be2"/>
<rect x="41.12" y="196.3" width="5.06" height="3.9" fill="#2a9be2"/>
<rect x="46.18" y="196.3" width="5.06" height="3.9" fill="#2a9be2"/>
<rect x="51.24" y="196.3" width="5.06" height="3.9" fill="#2a9be2"/>
<rect x="56.30" y="196.3" width="5.06" height="3.9" fill="#cb0f23"/>
<rect x="61.36" y="196.3" width="5.06" height="3.9" fill="#2a9be2"/>
<rect x="66.42" y="196.3" width="5.06" height="3.9" fill="#cb0f23"/>
<rect x="71.48" y="196.3" width="5.06" height="3.9" fill="#2a9be2"/>
<rect x="76.54" y="196.3" width="5.06" height="3.9" fill="#2a9be2"/>
<rect x="81.60" y="196.3" width="5.06" height="3.9" fill="#cb0f23"/>
<rect x="86.66" y="196.3" width="5.06" height="3.9" fill="#2a9be2"/>
<rect x="93.80" y="196.3" width="5.06" height="3.9" fill="#cb0f23"/>
<rect x="98.86" y="196.3" width="5.06" height="3.9" fill="#cb0f23"/>
<rect x="103.92" y="196.3" width="5.06" height="3.9" fill="#2a9be2"/>
<rect x="108.98" y="196.3" width="5.06" height="3.9" fill="#cb0f23"/>
<rect x="114.04" y="196.3" width="5.06" height="3.9" fill="#2a9be2"/>
<rect x="119.10" y="196.3" width="5.06" height="3.9" fill="#cb0f23"/>
<rect x="124.16" y="196.3" width="5.06" height="3.9" fill="#2a9be2"/>
<rect x="129.22" y="196.3" width="5.06" height="3.9" fill="#2a9be2"/>
<rect x="134.28" y="196.3" width="5.06" height="3.9" fill="#2a9be2"/>
<rect x="139.34" y="196.3" width="5.06" height="3.9" fill="#cb0f23"/>
<rect x="144.40" y="196.3" width="5.06" height="3.9" fill="#2a9be2"/>
<rect x="149.46" y="196.3" width="5.06" height="3.9" fill="#cb0f23"/>
<rect x="154.52" y="196.3" width="5.06" height="3.9" fill="#2a9be2"/>
<rect x="159.58" y="196.3" width="5.06" height="3.9" fill="#cb0f23"/>
<rect x="164.64" y="196.3" width="5.06" height="3.9" fill="#cb0f23"/>
<path d="M31.00 196.30V200.20M36.06 196.30V200.20M41.12 196.30V200.20M46.18 196.30V200.20M51.24 196.30V200.20M56.30 196.30V200.20M61.36 196.30V200.20M66.42 196.30V200.20M71.48 196.30V200.20M76.54 196.30V200.20M81.60 196.30V200.20M86.66 196.30V200.20M91.72 196.30V200.20M31.00 196.30H91.72M31.00 200.20H91.72" stroke="#9a9a9a" stroke-width="0.48" fill="none"/>
<path d="M93.80 196.30V200.20M98.86 196.30V200.20M103.92 196.30V200.20M108.98 196.30V200.20M114.04 196.30V200.20M119.10 196.30V200.20M124.16 196.30V200.20M129.22 196.30V200.20M134.28 196.30V200.20M139.34 196.30V200.20M144.40 196.30V200.20M149.46 196.30V200.20M154.52 196.30V200.20M159.58 196.30V200.20M164.64 196.30V200.20M169.70 196.30V200.20M93.80 196.30H169.70M93.80 200.20H169.70" stroke="#9a9a9a" stroke-width="0.48" fill="none"/>
<path d="M38.59 169.70V164.60H43.65V169.70" stroke="#1a1a1a" stroke-width="0.6" fill="none"/>
<path d="M33.53 169.70V160.90H41.12V164.60" stroke="#1a1a1a" stroke-width="0.6" fill="none"/>
<path d="M48.71 169.70V161.90H53.77V169.70" stroke="#1a1a1a" stroke-width="0.6" fill="none"/>
<path d="M63.89 169.70V164.60H68.95V169.70" stroke="#1a1a1a" stroke-width="0.6" fill="none"/>
<path d="M58.83 169.70V164.00H66.42V164.60" stroke="#1a1a1a" stroke-width="0.6" fill="none"/>
<path d="M84.13 169.70V165.30H89.19V169.70" stroke="#1a1a1a" stroke-width="0.6" fill="none"/>
<path d="M79.07 169.70V162.90H86.66V165.30" stroke="#1a1a1a" stroke-width="0.6" fill="none"/>
<path d="M74.01 169.70V162.20H82.86V162.90" stroke="#1a1a1a" stroke-width="0.6" fill="none"/>
<path d="M62.62 164.00V161.10H78.44V162.20" stroke="#1a1a1a" stroke-width="0.6" fill="none"/>
<path d="M51.24 161.90V158.40H70.53V161.10" stroke="#1a1a1a" stroke-width="0.6" fill="none"/>
<path d="M37.33 160.90V154.80H60.89V158.40" stroke="#1a1a1a" stroke-width="0.6" fill="none"/>
<path d="M96.33 169.70V164.00H101.39V169.70" stroke="#1a1a1a" stroke-width="0.6" fill="none"/>
<path d="M111.51 169.70V164.50H116.57V169.70" stroke="#1a1a1a" stroke-width="0.6" fill="none"/>
<path d="M106.45 169.70V160.80H114.04V164.50" stroke="#1a1a1a" stroke-width="0.6" fill="none"/>
<path d="M121.63 169.70V165.30H126.69V169.70" stroke="#1a1a1a" stroke-width="0.6" fill="none"/>
<path d="M136.81 169.70V163.40H141.87V169.70" stroke="#1a1a1a" stroke-width="0.6" fill="none"/>
<path d="M131.75 169.70V162.50H139.34V163.40" stroke="#1a1a1a" stroke-width="0.6" fill="none"/>
<path d="M124.16 165.30V161.30H135.55V162.50" stroke="#1a1a1a" stroke-width="0.6" fill="none"/>
<path d="M151.99 169.70V165.30H157.05V169.70" stroke="#1a1a1a" stroke-width="0.6" fill="none"/>
<path d="M162.11 169.70V163.80H167.17V169.70" stroke="#1a1a1a" stroke-width="0.6" fill="none"/>
<path d="M154.52 165.30V162.50H164.64V163.80" stroke="#1a1a1a" stroke-width="0.6" fill="none"/>
<path d="M146.93 169.70V160.40H159.58V162.50" stroke="#1a1a1a" stroke-width="0.6" fill="none"/>
<path d="M129.85 161.30V158.10H153.25V160.40" stroke="#1a1a1a" stroke-width="0.6" fill="none"/>
<path d="M110.24 160.80V157.20H141.55V158.10" stroke="#1a1a1a" stroke-width="0.6" fill="none"/>
<path d="M98.86 164.00V153.90H125.90V157.20" stroke="#1a1a1a" stroke-width="0.6" fill="none"/>
<path d="M49.11 154.80V142.00H112.38V153.90" stroke="#1a1a1a" stroke-width="0.6" fill="none"/>
<path d="M30.60 209.60H23.30V214.74H30.60" stroke="#1a1a1a" stroke-width="0.6" fill="none"/>
<path d="M30.60 204.47H22.40V212.17H23.30" stroke="#1a1a1a" stroke-width="0.6" fill="none"/>
<path d="M30.60 219.88H22.70V225.01H30.60" stroke="#1a1a1a" stroke-width="0.6" fill="none"/>
<path d="M30.60 245.56H24.90V250.69H30.60" stroke="#1a1a1a" stroke-width="0.6" fill="none"/>
<path d="M30.60 240.42H23.50V248.12H24.90" stroke="#1a1a1a" stroke-width="0.6" fill="none"/>
<path d="M30.60 235.28H22.50V244.27H23.50" stroke="#1a1a1a" stroke-width="0.6" fill="none"/>
<path d="M30.60 230.15H21.70V239.78H22.50" stroke="#1a1a1a" stroke-width="0.6" fill="none"/>
<path d="M22.70 222.44H20.80V234.96H21.70" stroke="#1a1a1a" stroke-width="0.6" fill="none"/>
<path d="M22.40 208.32H17.20V228.70H20.80" stroke="#1a1a1a" stroke-width="0.6" fill="none"/>
<path d="M30.60 255.83H21.30V260.96H30.60" stroke="#1a1a1a" stroke-width="0.6" fill="none"/>
<path d="M30.60 266.10H20.30V271.24H30.60" stroke="#1a1a1a" stroke-width="0.6" fill="none"/>
<path d="M21.30 258.40H12.70V268.67H20.30" stroke="#1a1a1a" stroke-width="0.6" fill="none"/>
<path d="M17.20 218.51H10.30V263.53H12.70" stroke="#1a1a1a" stroke-width="0.6" fill="none"/>
<path d="M30.60 281.51H23.30V286.64H30.60" stroke="#1a1a1a" stroke-width="0.6" fill="none"/>
<path d="M30.60 276.37H19.60V284.08H23.30" stroke="#1a1a1a" stroke-width="0.6" fill="none"/>
<path d="M30.60 307.19H23.80V312.32H30.60" stroke="#1a1a1a" stroke-width="0.6" fill="none"/>
<path d="M30.60 302.05H21.70V309.76H23.80" stroke="#1a1a1a" stroke-width="0.6" fill="none"/>
<path d="M30.60 296.92H18.00V305.90H21.70" stroke="#1a1a1a" stroke-width="0.6" fill="none"/>
<path d="M30.60 317.46H19.60V322.60H30.60" stroke="#1a1a1a" stroke-width="0.6" fill="none"/>
<path d="M30.60 332.87H22.70V338.00H30.60" stroke="#1a1a1a" stroke-width="0.6" fill="none"/>
<path d="M30.60 343.14H22.20V348.28H30.60" stroke="#1a1a1a" stroke-width="0.6" fill="none"/>
<path d="M22.70 335.44H21.20V345.71H22.20" stroke="#1a1a1a" stroke-width="0.6" fill="none"/>
<path d="M30.60 327.73H18.80V340.57H21.20" stroke="#1a1a1a" stroke-width="0.6" fill="none"/>
<path d="M19.60 320.03H16.90V334.15H18.80" stroke="#1a1a1a" stroke-width="0.6" fill="none"/>
<path d="M18.00 301.41H14.30V327.09H16.90" stroke="#1a1a1a" stroke-width="0.6" fill="none"/>
<path d="M30.60 291.78H9.50V314.25H14.30" stroke="#1a1a1a" stroke-width="0.6" fill="none"/>
<path d="M19.60 280.22H7.90V303.01H9.50" stroke="#1a1a1a" stroke-width="0.6" fill="none"/>
<path d="M10.30 241.02H3.70V291.62H7.90" stroke="#1a1a1a" stroke-width="0.6" fill="none"/>
<text font-size="53.5" font-weight="bold" transform="translate(171.10 174.15) scale(0.1)" fill="#000" stroke="#000" stroke-width="1.02">EMT</text>
<text font-size="53.5" font-weight="bold" transform="translate(171.10 179.35) scale(0.1)" fill="#000" stroke="#000" stroke-width="1.02">TIS-RNA-seq</text>
<text font-size="53.5" font-weight="bold" transform="translate(171.10 184.55) scale(0.1)" fill="#000" stroke="#000" stroke-width="1.02">PFS (months)</text>
<text font-size="53.5" font-weight="bold" transform="translate(171.10 189.75) scale(0.1)" fill="#000" stroke="#000" stroke-width="1.02">PFS status</text>
<text font-size="53.5" font-weight="bold" transform="translate(171.10 194.95) scale(0.1)" fill="#000" stroke="#000" stroke-width="1.02">Best response</text>
<text font-size="53.5" font-weight="bold" transform="translate(171.10 200.15) scale(0.1)" fill="#000" stroke="#000" stroke-width="1.02">Clinical benefit</text>
<text font-size="53.5" transform="translate(171.10 206.37) scale(0.1)" fill="#1a1a1a" stroke="#1a1a1a" stroke-width="1.02">Macrophage and DC traffic</text>
<text font-size="53.5" transform="translate(171.10 211.50) scale(0.1)" fill="#1a1a1a" stroke="#1a1a1a" stroke-width="1.02">Effector cell traffic</text>
<text font-size="53.5" transform="translate(171.10 216.64) scale(0.1)" fill="#1a1a1a" stroke="#1a1a1a" stroke-width="1.02">Tumor-associated macrophages</text>
<text font-size="53.5" transform="translate(171.10 221.78) scale(0.1)" fill="#1a1a1a" stroke="#1a1a1a" stroke-width="1.02">T cells</text>
<text font-size="53.5" transform="translate(171.10 226.91) scale(0.1)" fill="#1a1a1a" stroke="#1a1a1a" stroke-width="1.02">Costimulatory receptors</text>
<text font-size="53.5" transform="translate(171.10 232.05) scale(0.1)" fill="#1a1a1a" stroke="#1a1a1a" stroke-width="1.02">B cells</text>
<text font-size="53.5" transform="translate(171.10 237.18) scale(0.1)" fill="#1a1a1a" stroke="#1a1a1a" stroke-width="1.02">NK cells</text>
<text font-size="53.5" transform="translate(171.10 242.32) scale(0.1)" fill="#1a1a1a" stroke="#1a1a1a" stroke-width="1.02">Th1 signature</text>
<text font-size="53.5" transform="translate(171.10 247.46) scale(0.1)" fill="#1a1a1a" stroke="#1a1a1a" stroke-width="1.02">Effector cells</text>
<text font-size="53.5" transform="translate(171.10 252.59) scale(0.1)" fill="#1a1a1a" stroke="#1a1a1a" stroke-width="1.02">Checkpoint molecules</text>
<text font-size="53.5" transform="translate(171.10 257.73) scale(0.1)" fill="#1a1a1a" stroke="#1a1a1a" stroke-width="1.02">Endothelium</text>
<text font-size="53.5" transform="translate(171.10 262.86) scale(0.1)" fill="#1a1a1a" stroke="#1a1a1a" stroke-width="1.02">Angiogenesis</text>
<text font-size="53.5" transform="translate(171.10 268.00) scale(0.1)" fill="#1a1a1a" stroke="#1a1a1a" stroke-width="1.02">MHCI</text>
<text font-size="53.5" transform="translate(171.10 273.14) scale(0.1)" fill="#1a1a1a" stroke="#1a1a1a" stroke-width="1.02">MHCII</text>
<text font-size="53.5" transform="translate(171.10 278.27) scale(0.1)" fill="#1a1a1a" stroke="#1a1a1a" stroke-width="1.02">Cancer-associated fibroblasts</text>
<text font-size="53.5" transform="translate(171.10 283.41) scale(0.1)" fill="#1a1a1a" stroke="#1a1a1a" stroke-width="1.02">Matrix remodeling</text>
<text font-size="53.5" transform="translate(171.10 288.54) scale(0.1)" fill="#1a1a1a" stroke="#1a1a1a" stroke-width="1.02">Matrix</text>
<text font-size="53.5" transform="translate(171.10 293.68) scale(0.1)" fill="#1a1a1a" stroke="#1a1a1a" stroke-width="1.02">Tumor proliferation rate</text>
<text font-size="53.5" transform="translate(171.10 298.82) scale(0.1)" fill="#1a1a1a" stroke="#1a1a1a" stroke-width="1.02">Neutrophil signature</text>
<text font-size="53.5" transform="translate(171.10 303.95) scale(0.1)" fill="#1a1a1a" stroke="#1a1a1a" stroke-width="1.02">Granulocyte traffic</text>
<text font-size="53.5" transform="translate(171.10 309.09) scale(0.1)" fill="#1a1a1a" stroke="#1a1a1a" stroke-width="1.02">Immune suppression by myeloid cells</text>
<text font-size="53.5" transform="translate(171.10 314.22) scale(0.1)" fill="#1a1a1a" stroke="#1a1a1a" stroke-width="1.02">Myeloid cell traffic</text>
<text font-size="53.5" transform="translate(171.10 319.36) scale(0.1)" fill="#1a1a1a" stroke="#1a1a1a" stroke-width="1.02">Treg and Th2 traffic</text>
<text font-size="53.5" transform="translate(171.10 324.50) scale(0.1)" fill="#1a1a1a" stroke="#1a1a1a" stroke-width="1.02">Th2 signature</text>
<text font-size="53.5" transform="translate(171.10 329.63) scale(0.1)" fill="#1a1a1a" stroke="#1a1a1a" stroke-width="1.02">Protumor cytokines</text>
<text font-size="53.5" transform="translate(171.10 334.77) scale(0.1)" fill="#1a1a1a" stroke="#1a1a1a" stroke-width="1.02">Antitumor cytokines</text>
<text font-size="53.5" transform="translate(171.10 339.90) scale(0.1)" fill="#1a1a1a" stroke="#1a1a1a" stroke-width="1.02">Treg</text>
<text font-size="53.5" transform="translate(171.10 345.04) scale(0.1)" fill="#1a1a1a" stroke="#1a1a1a" stroke-width="1.02">Costimulatory ligands</text>
<text font-size="53.5" transform="translate(171.10 350.18) scale(0.1)" fill="#1a1a1a" stroke="#1a1a1a" stroke-width="1.02">M1 signature</text>
<text font-size="52.0" transform="translate(31.73 352.30) rotate(90) scale(0.1)" fill="#1a1a1a" stroke="#1a1a1a" stroke-width="0.99">B44H</text>
<text font-size="52.0" transform="translate(36.79 352.30) rotate(90) scale(0.1)" fill="#1a1a1a" stroke="#1a1a1a" stroke-width="0.99">B44I</text>
<text font-size="52.0" transform="translate(41.85 352.30) rotate(90) scale(0.1)" fill="#1a1a1a" stroke="#1a1a1a" stroke-width="0.99">B44P</text>
<text font-size="52.0" transform="translate(46.91 352.30) rotate(90) scale(0.1)" fill="#1a1a1a" stroke="#1a1a1a" stroke-width="0.99">B44M</text>
<text font-size="52.0" transform="translate(51.97 352.30) rotate(90) scale(0.1)" fill="#1a1a1a" stroke="#1a1a1a" stroke-width="0.99">B44Z</text>
<text font-size="52.0" transform="translate(57.03 352.30) rotate(90) scale(0.1)" fill="#1a1a1a" stroke="#1a1a1a" stroke-width="0.99">B44W</text>
<text font-size="52.0" transform="translate(62.09 352.30) rotate(90) scale(0.1)" fill="#1a1a1a" stroke="#1a1a1a" stroke-width="0.99">B44U</text>
<text font-size="52.0" transform="translate(67.15 352.30) rotate(90) scale(0.1)" fill="#1a1a1a" stroke="#1a1a1a" stroke-width="0.99">B442</text>
<text font-size="52.0" transform="translate(72.21 352.30) rotate(90) scale(0.1)" fill="#1a1a1a" stroke="#1a1a1a" stroke-width="0.99">B44T</text>
<text font-size="52.0" transform="translate(77.27 352.30) rotate(90) scale(0.1)" fill="#1a1a1a" stroke="#1a1a1a" stroke-width="0.99">B44F</text>
<text font-size="52.0" transform="translate(82.33 352.30) rotate(90) scale(0.1)" fill="#1a1a1a" stroke="#1a1a1a" stroke-width="0.99">B44J</text>
<text font-size="52.0" transform="translate(87.39 352.30) rotate(90) scale(0.1)" fill="#1a1a1a" stroke="#1a1a1a" stroke-width="0.99">B445</text>
<text font-size="52.0" transform="translate(94.53 352.30) rotate(90) scale(0.1)" fill="#1a1a1a" stroke="#1a1a1a" stroke-width="0.99">B44V</text>
<text font-size="52.0" transform="translate(99.59 352.30) rotate(90) scale(0.1)" fill="#1a1a1a" stroke="#1a1a1a" stroke-width="0.99">B446</text>
<text font-size="52.0" transform="translate(104.65 352.30) rotate(90) scale(0.1)" fill="#1a1a1a" stroke="#1a1a1a" stroke-width="0.99">B44R</text>
<text font-size="52.0" transform="translate(109.71 352.30) rotate(90) scale(0.1)" fill="#1a1a1a" stroke="#1a1a1a" stroke-width="0.99">B44D</text>
<text font-size="52.0" transform="translate(114.77 352.30) rotate(90) scale(0.1)" fill="#1a1a1a" stroke="#1a1a1a" stroke-width="0.99">B44X</text>
<text font-size="52.0" transform="translate(119.83 352.30) rotate(90) scale(0.1)" fill="#1a1a1a" stroke="#1a1a1a" stroke-width="0.99">B44Q</text>
<text font-size="52.0" transform="translate(124.89 352.30) rotate(90) scale(0.1)" fill="#1a1a1a" stroke="#1a1a1a" stroke-width="0.99">B44E</text>
<text font-size="52.0" transform="translate(129.95 352.30) rotate(90) scale(0.1)" fill="#1a1a1a" stroke="#1a1a1a" stroke-width="0.99">B44C</text>
<text font-size="52.0" transform="translate(135.01 352.30) rotate(90) scale(0.1)" fill="#1a1a1a" stroke="#1a1a1a" stroke-width="0.99">B44G</text>
<text font-size="52.0" transform="translate(140.07 352.30) rotate(90) scale(0.1)" fill="#1a1a1a" stroke="#1a1a1a" stroke-width="0.99">B44S</text>
<text font-size="52.0" transform="translate(145.13 352.30) rotate(90) scale(0.1)" fill="#1a1a1a" stroke="#1a1a1a" stroke-width="0.99">B44K</text>
<text font-size="52.0" transform="translate(150.19 352.30) rotate(90) scale(0.1)" fill="#1a1a1a" stroke="#1a1a1a" stroke-width="0.99">B44Y</text>
<text font-size="52.0" transform="translate(155.25 352.30) rotate(90) scale(0.1)" fill="#1a1a1a" stroke="#1a1a1a" stroke-width="0.99">B449</text>
<text font-size="52.0" transform="translate(160.31 352.30) rotate(90) scale(0.1)" fill="#1a1a1a" stroke="#1a1a1a" stroke-width="0.99">B44L</text>
<text font-size="52.0" transform="translate(165.37 352.30) rotate(90) scale(0.1)" fill="#1a1a1a" stroke="#1a1a1a" stroke-width="0.99">B441</text>
<text font-size="75.0" text-anchor="middle" transform="translate(61.70 376.20) scale(0.1)" fill="#1a1a1a" stroke="#1a1a1a" stroke-width="1.43">Hot</text>
<text font-size="75.0" text-anchor="middle" transform="translate(130.00 376.20) scale(0.1)" fill="#1a1a1a" stroke="#1a1a1a" stroke-width="1.43">Cold</text>
<defs><linearGradient id="cb" x1="0" y1="0" x2="0" y2="1"><stop offset="0" stop-color="#d3231f"/><stop offset="0.03" stop-color="#d62a23"/><stop offset="0.18" stop-color="#fc8d59"/><stop offset="0.3333" stop-color="#fee090"/><stop offset="0.5" stop-color="#ffffbf"/><stop offset="0.6667" stop-color="#e0f3f8"/><stop offset="0.8333" stop-color="#91bfdb"/><stop offset="1" stop-color="#4575b4"/></linearGradient><linearGradient id="pfsg" x1="0" y1="0" x2="0" y2="1"><stop offset="0" stop-color="#0d9e52"/><stop offset="0.25" stop-color="#35b583"/><stop offset="0.5" stop-color="#6cc9ae"/><stop offset="0.75" stop-color="#b5e5dc"/><stop offset="1" stop-color="#e6f7f6"/></linearGradient></defs>
<rect x="251.3" y="169.8" width="5.3" height="78.4" fill="url(#cb)"/>
<text font-size="53.5" transform="translate(257.30 178.10) scale(0.1)" fill="#1a1a1a" stroke="#1a1a1a" stroke-width="1.02">2</text>
<text font-size="53.5" transform="translate(257.30 195.60) scale(0.1)" fill="#1a1a1a" stroke="#1a1a1a" stroke-width="1.02">1</text>
<text font-size="53.5" transform="translate(257.30 212.90) scale(0.1)" fill="#1a1a1a" stroke="#1a1a1a" stroke-width="1.02">0</text>
<text font-size="53.5" transform="translate(257.30 230.30) scale(0.1)" fill="#1a1a1a" stroke="#1a1a1a" stroke-width="1.02">−1</text>
<text font-size="53.5" transform="translate(257.30 247.20) scale(0.1)" fill="#1a1a1a" stroke="#1a1a1a" stroke-width="1.02">−2</text>
<text font-size="53.5" font-weight="bold" transform="translate(269.00 172.60) scale(0.1)" fill="#000" stroke="#000" stroke-width="1.02">EMT</text>
<rect x="269.0" y="173.80" width="6.1" height="6.1" fill="#e9a287" stroke="#939393" stroke-width="0.6"/>
<text font-size="53.5" transform="translate(276.30 178.75) scale(0.1)" fill="#1a1a1a" stroke="#1a1a1a" stroke-width="1.02">Epithelial</text>
<rect x="269.0" y="179.90" width="6.1" height="6.1" fill="#401a24" stroke="#939393" stroke-width="0.6"/>
<text font-size="53.5" transform="translate(276.30 184.85) scale(0.1)" fill="#1a1a1a" stroke="#1a1a1a" stroke-width="1.02">Mesenchymal</text>
<text font-size="53.5" font-weight="bold" transform="translate(269.00 193.60) scale(0.1)" fill="#000" stroke="#000" stroke-width="1.02">TIS-RNA-seq</text>
<rect x="269.0" y="195.00" width="6.1" height="6.1" fill="#3f55a6" stroke="#939393" stroke-width="0.6"/>
<text font-size="53.5" transform="translate(276.30 199.95) scale(0.1)" fill="#1a1a1a" stroke="#1a1a1a" stroke-width="1.02">Low</text>
<rect x="269.0" y="201.10" width="6.1" height="6.1" fill="#ee2a22" stroke="#939393" stroke-width="0.6"/>
<text font-size="53.5" transform="translate(276.30 206.05) scale(0.1)" fill="#1a1a1a" stroke="#1a1a1a" stroke-width="1.02">High</text>
<text font-size="53.5" font-weight="bold" transform="translate(269.00 214.20) scale(0.1)" fill="#000" stroke="#000" stroke-width="1.02">PFS (months)</text>
<rect x="269.0" y="216.00" width="6.1" height="5.95" fill="#1ea35c"/>
<rect x="269.0" y="221.95" width="6.1" height="5.95" fill="#5dc3a0"/>
<rect x="269.0" y="227.90" width="6.1" height="5.95" fill="#a3ddd1"/>
<rect x="269.0" y="233.85" width="6.1" height="5.95" fill="#e4f6f5"/>
<rect x="269.0" y="216.1" width="6.1" height="23.8" fill="none" stroke="#a0a0a0" stroke-width="0.4"/>
<text font-size="53.5" transform="translate(276.70 221.10) scale(0.1)" fill="#1a1a1a" stroke="#1a1a1a" stroke-width="1.02">20</text>
<text font-size="53.5" transform="translate(276.70 239.20) scale(0.1)" fill="#1a1a1a" stroke="#1a1a1a" stroke-width="1.02">5</text>
<text font-size="53.5" font-weight="bold" transform="translate(269.00 247.40) scale(0.1)" fill="#000" stroke="#000" stroke-width="1.02">PFS status</text>
<rect x="269.0" y="249.10" width="6.1" height="6.1" fill="#000" stroke="#939393" stroke-width="0.6"/>
<text font-size="53.5" transform="translate(276.30 254.05) scale(0.1)" fill="#1a1a1a" stroke="#1a1a1a" stroke-width="1.02">Event</text>
<rect x="269.0" y="255.20" width="6.1" height="6.1" fill="#fff" stroke="#939393" stroke-width="0.6"/>
<text font-size="53.5" transform="translate(276.30 260.15) scale(0.1)" fill="#1a1a1a" stroke="#1a1a1a" stroke-width="1.02">Censored</text>
<text font-size="53.5" font-weight="bold" transform="translate(269.00 268.90) scale(0.1)" fill="#000" stroke="#000" stroke-width="1.02">Best response</text>
<rect x="269.0" y="270.30" width="6.1" height="6.1" fill="#5a4fb0" stroke="#939393" stroke-width="0.6"/>
<text font-size="53.5" transform="translate(276.30 275.25) scale(0.1)" fill="#1a1a1a" stroke="#1a1a1a" stroke-width="1.02">CR</text>
<rect x="269.0" y="276.40" width="6.1" height="6.1" fill="#a93a3a" stroke="#939393" stroke-width="0.6"/>
<text font-size="53.5" transform="translate(276.30 281.35) scale(0.1)" fill="#1a1a1a" stroke="#1a1a1a" stroke-width="1.02">PD</text>
<rect x="269.0" y="282.50" width="6.1" height="6.1" fill="#86bada" stroke="#939393" stroke-width="0.6"/>
<text font-size="53.5" transform="translate(276.30 287.45) scale(0.1)" fill="#1a1a1a" stroke="#1a1a1a" stroke-width="1.02">PR</text>
<rect x="269.0" y="288.60" width="6.1" height="6.1" fill="#eed536" stroke="#939393" stroke-width="0.6"/>
<text font-size="53.5" transform="translate(276.30 293.55) scale(0.1)" fill="#1a1a1a" stroke="#1a1a1a" stroke-width="1.02">SD</text>
<text font-size="53.5" font-weight="bold" transform="translate(269.00 301.60) scale(0.1)" fill="#000" stroke="#000" stroke-width="1.02">Clinical benefit</text>
<rect x="269.0" y="303.50" width="6.1" height="6.1" fill="#cb0f23" stroke="#939393" stroke-width="0.6"/>
<text font-size="53.5" transform="translate(276.30 308.45) scale(0.1)" fill="#1a1a1a" stroke="#1a1a1a" stroke-width="1.02">No clinical benefit</text>
<rect x="269.0" y="309.60" width="6.1" height="6.1" fill="#2a9be2" stroke="#939393" stroke-width="0.6"/>
<text font-size="53.5" transform="translate(276.30 314.55) scale(0.1)" fill="#1a1a1a" stroke="#1a1a1a" stroke-width="1.02">Clinical benefit</text>
</g>
<g id="panelD">
<text font-size="107.0" font-weight="bold" transform="translate(325.60 144.60) scale(0.1)" fill="#000" stroke="#000" stroke-width="2.03">D</text>
<line x1="352.90" y1="171.90" x2="352.90" y2="281.90" stroke="#111" stroke-width="0.95"/>
<line x1="352.40" y1="281.45" x2="520.00" y2="281.45" stroke="#111" stroke-width="0.95"/>
<line x1="351.00" y1="275.80" x2="352.80" y2="275.80" stroke="#111" stroke-width="0.8"/>
<text font-size="67.0" text-anchor="end" transform="translate(350.20 277.80) scale(0.1)" fill="#1a1a1a" stroke="#1a1a1a" stroke-width="1.27">0.00</text>
<line x1="351.00" y1="251.15" x2="352.80" y2="251.15" stroke="#111" stroke-width="0.8"/>
<text font-size="67.0" text-anchor="end" transform="translate(350.20 253.15) scale(0.1)" fill="#1a1a1a" stroke="#1a1a1a" stroke-width="1.27">0.25</text>
<line x1="351.00" y1="226.50" x2="352.80" y2="226.50" stroke="#111" stroke-width="0.8"/>
<text font-size="67.0" text-anchor="end" transform="translate(350.20 228.50) scale(0.1)" fill="#1a1a1a" stroke="#1a1a1a" stroke-width="1.27">0.50</text>
<line x1="351.00" y1="201.85" x2="352.80" y2="201.85" stroke="#111" stroke-width="0.8"/>
<text font-size="67.0" text-anchor="end" transform="translate(350.20 203.85) scale(0.1)" fill="#1a1a1a" stroke="#1a1a1a" stroke-width="1.27">0.75</text>
<line x1="351.00" y1="177.20" x2="352.80" y2="177.20" stroke="#111" stroke-width="0.8"/>
<text font-size="67.0" text-anchor="end" transform="translate(350.20 179.20) scale(0.1)" fill="#1a1a1a" stroke="#1a1a1a" stroke-width="1.27">1.00</text>
<line x1="360.80" y1="281.90" x2="360.80" y2="283.60" stroke="#111" stroke-width="0.8"/>
<text font-size="69.0" text-anchor="middle" transform="translate(360.80 290.20) scale(0.1)" fill="#1a1a1a" stroke="#1a1a1a" stroke-width="1.31">0</text>
<line x1="398.60" y1="281.90" x2="398.60" y2="283.60" stroke="#111" stroke-width="0.8"/>
<text font-size="69.0" text-anchor="middle" transform="translate(398.60 290.20) scale(0.1)" fill="#1a1a1a" stroke="#1a1a1a" stroke-width="1.31">5</text>
<line x1="436.40" y1="281.90" x2="436.40" y2="283.60" stroke="#111" stroke-width="0.8"/>
<text font-size="69.0" text-anchor="middle" transform="translate(436.40 290.20) scale(0.1)" fill="#1a1a1a" stroke="#1a1a1a" stroke-width="1.31">10</text>
<line x1="474.20" y1="281.90" x2="474.20" y2="283.60" stroke="#111" stroke-width="0.8"/>
<text font-size="69.0" text-anchor="middle" transform="translate(474.20 290.20) scale(0.1)" fill="#1a1a1a" stroke="#1a1a1a" stroke-width="1.31">15</text>
<line x1="512.00" y1="281.90" x2="512.00" y2="283.60" stroke="#111" stroke-width="0.8"/>
<text font-size="69.0" text-anchor="middle" transform="translate(512.00 290.20) scale(0.1)" fill="#1a1a1a" stroke="#1a1a1a" stroke-width="1.31">20</text>
<text font-size="74.5" text-anchor="middle" transform="translate(331.20 226.50) rotate(-90) scale(0.1)" fill="#1a1a1a" stroke="#1a1a1a" stroke-width="1.42">Survival probability</text>
<text font-size="75.5" text-anchor="middle" transform="translate(438.90 300.90) scale(0.1)" fill="#1a1a1a" stroke="#1a1a1a" stroke-width="1.43">Time (months)</text>
<clipPath id="clipD"><rect x="352" y="165" width="168" height="120"/></clipPath>
<path d="M360.80 177.20 H360.80 V183.81 H369.42 V190.31 H373.80 V203.53 H375.92 V210.03 H379.47 V223.25 H401.62 V229.75 H409.18 V236.36 H419.77 V242.97 H462.10 V249.47 H521.07 V249.47" stroke="#1b96d6" stroke-width="1.5" fill="none" clip-path="url(#clipD)"/>
<path d="M360.80 177.20 H369.42 V185.38 H372.14 V193.67 H374.63 V201.85 H387.11 V210.03 H457.57 V218.32 H469.66 V229.75 H521.07 V229.75" stroke="#7e1317" stroke-width="1.55" fill="none" clip-path="url(#clipD)"/>
<line x1="475.71" y1="248.17" x2="475.71" y2="250.77" stroke="#1b96d6" stroke-width="0.6"/>
<line x1="502.70" y1="248.17" x2="502.70" y2="250.77" stroke="#1b96d6" stroke-width="0.6"/>
<line x1="507.92" y1="248.17" x2="507.92" y2="250.77" stroke="#1b96d6" stroke-width="0.6"/>
<line x1="463.99" y1="217.02" x2="463.99" y2="219.62" stroke="#7e1317" stroke-width="0.6"/>
<line x1="486.30" y1="228.45" x2="486.30" y2="231.05" stroke="#7e1317" stroke-width="0.6"/>
<line x1="505.20" y1="228.45" x2="505.20" y2="231.05" stroke="#7e1317" stroke-width="0.6"/>
<text font-size="48.5" transform="translate(397.80 163.80) scale(0.1)" fill="#1a1a1a" stroke="#1a1a1a" stroke-width="0.92">Strata</text>
<line x1="413.70" y1="162.10" x2="419.10" y2="162.10" stroke="#1b96d6" stroke-width="1.4"/>
<text font-size="48.7" transform="translate(420.90 163.80) scale(0.1)" fill="#1a1a1a" stroke="#1a1a1a" stroke-width="0.93">Cluster = cold</text>
<line x1="454.10" y1="162.10" x2="459.80" y2="162.10" stroke="#7e1317" stroke-width="1.4"/>
<text font-size="48.5" transform="translate(461.50 163.80) scale(0.1)" fill="#1a1a1a" stroke="#1a1a1a" stroke-width="0.92">Cluster = hot</text>
<text font-size="62.0" transform="translate(367.80 309.20) scale(0.1)" fill="#1a1a1a" stroke="#1a1a1a" stroke-width="1.18">Number at risk</text>
<line x1="368.60" y1="312.60" x2="368.60" y2="334.00" stroke="#111" stroke-width="0.9"/>
<line x1="368.20" y1="333.60" x2="520.00" y2="333.60" stroke="#111" stroke-width="0.9"/>
<text font-size="54.5" text-anchor="end" transform="translate(365.70 319.80) scale(0.1)" fill="#1b96d6" stroke="#1b96d6" stroke-width="1.04">Cluster = cold</text>
<text font-size="54.5" text-anchor="end" transform="translate(365.70 329.50) scale(0.1)" fill="#a02a2a" stroke="#a02a2a" stroke-width="1.04">Cluster = hot</text>
<line x1="366.90" y1="317.90" x2="368.60" y2="317.90" stroke="#222" stroke-width="0.6"/>
<line x1="366.90" y1="327.50" x2="368.60" y2="327.50" stroke="#222" stroke-width="0.6"/>
<text font-size="57.0" text-anchor="middle" transform="translate(330.00 324.30) rotate(-90) scale(0.1)" fill="#1a1a1a" stroke="#1a1a1a" stroke-width="1.08">Strata</text>
<text font-size="50.0" text-anchor="middle" transform="translate(375.00 319.80) scale(0.1)" fill="#1a1a1a" stroke="#1a1a1a" stroke-width="0.95">15</text>
<text font-size="50.0" text-anchor="middle" transform="translate(375.00 329.70) scale(0.1)" fill="#1a1a1a" stroke="#1a1a1a" stroke-width="0.95">12</text>
<line x1="375.00" y1="333.60" x2="375.00" y2="335.00" stroke="#222" stroke-width="0.6"/>
<text font-size="59.0" text-anchor="middle" transform="translate(375.00 340.10) scale(0.1)" fill="#1a1a1a" stroke="#1a1a1a" stroke-width="1.12">0</text>
<text font-size="50.0" text-anchor="middle" transform="translate(409.80 319.80) scale(0.1)" fill="#1a1a1a" stroke="#1a1a1a" stroke-width="0.95">8</text>
<text font-size="50.0" text-anchor="middle" transform="translate(409.80 329.70) scale(0.1)" fill="#1a1a1a" stroke="#1a1a1a" stroke-width="0.95">8</text>
<line x1="409.80" y1="333.60" x2="409.80" y2="335.00" stroke="#222" stroke-width="0.6"/>
<text font-size="59.0" text-anchor="middle" transform="translate(409.80 340.10) scale(0.1)" fill="#1a1a1a" stroke="#1a1a1a" stroke-width="1.12">5</text>
<text font-size="50.0" text-anchor="middle" transform="translate(444.50 319.80) scale(0.1)" fill="#1a1a1a" stroke="#1a1a1a" stroke-width="0.95">5</text>
<text font-size="50.0" text-anchor="middle" transform="translate(444.50 329.70) scale(0.1)" fill="#1a1a1a" stroke="#1a1a1a" stroke-width="0.95">8</text>
<line x1="444.50" y1="333.60" x2="444.50" y2="335.00" stroke="#222" stroke-width="0.6"/>
<text font-size="59.0" text-anchor="middle" transform="translate(444.50 340.10) scale(0.1)" fill="#1a1a1a" stroke="#1a1a1a" stroke-width="1.12">10</text>
<text font-size="50.0" text-anchor="middle" transform="translate(478.80 319.80) scale(0.1)" fill="#1a1a1a" stroke="#1a1a1a" stroke-width="0.95">4</text>
<text font-size="50.0" text-anchor="middle" transform="translate(478.80 329.70) scale(0.1)" fill="#1a1a1a" stroke="#1a1a1a" stroke-width="0.95">3</text>
<line x1="478.80" y1="333.60" x2="478.80" y2="335.00" stroke="#222" stroke-width="0.6"/>
<text font-size="59.0" text-anchor="middle" transform="translate(478.80 340.10) scale(0.1)" fill="#1a1a1a" stroke="#1a1a1a" stroke-width="1.12">15</text>
<text font-size="50.0" text-anchor="middle" transform="translate(513.20 319.80) scale(0.1)" fill="#1a1a1a" stroke="#1a1a1a" stroke-width="0.95">1</text>
<text font-size="50.0" text-anchor="middle" transform="translate(513.20 329.70) scale(0.1)" fill="#1a1a1a" stroke="#1a1a1a" stroke-width="0.95">1</text>
<line x1="513.20" y1="333.60" x2="513.20" y2="335.00" stroke="#222" stroke-width="0.6"/>
<text font-size="59.0" text-anchor="middle" transform="translate(513.20 340.10) scale(0.1)" fill="#1a1a1a" stroke="#1a1a1a" stroke-width="1.12">20</text>
<text font-size="61.0" text-anchor="middle" transform="translate(444.90 345.80) scale(0.1)" fill="#1a1a1a" stroke="#1a1a1a" stroke-width="1.16">Time (months)</text>
<text font-size="67.0" transform="translate(402.90 358.90) scale(0.1)" fill="#1a1a1a" stroke="#1a1a1a" stroke-width="1.27">HR = 0.54</text>
<text font-size="67.0" transform="translate(402.90 367.40) scale(0.1)" fill="#1a1a1a" stroke="#1a1a1a" stroke-width="1.27"><tspan font-style="italic">P</tspan> value = 0.23 (log-rank test)</text>
</g>
</svg>
</body>
</html>
